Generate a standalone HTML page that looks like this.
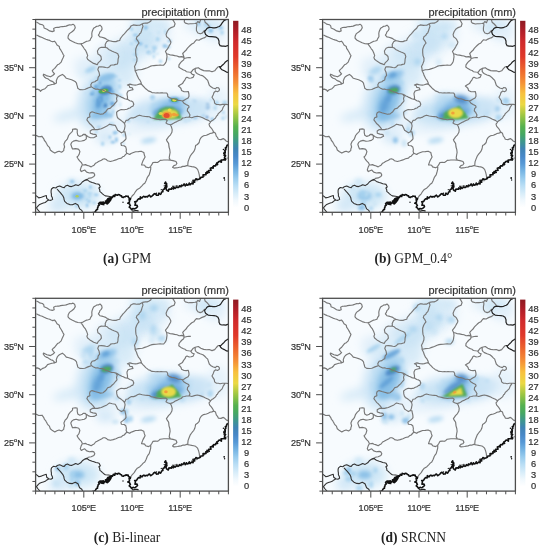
<!DOCTYPE html>
<html><head><meta charset="utf-8"><style>
html,body{margin:0;padding:0;background:#fff;}
svg{display:block;}
.tl{font-family:"Liberation Sans",Arial,sans-serif;font-size:9.1px;fill:#333;stroke:#333;stroke-width:0.22px;}
.cb{font-family:"Liberation Sans",Arial,sans-serif;font-size:9.3px;fill:#333;stroke:#333;stroke-width:0.22px;}
.deg{font-size:5.6px;}
.ti{font-family:"Liberation Sans",Arial,sans-serif;font-size:11px;fill:#333;stroke:#333;stroke-width:0.2px;}
.cap{font-family:"Liberation Serif","Times New Roman",serif;font-size:14.3px;fill:#222;}
</style></head><body>
<svg width="547" height="550" viewBox="0 0 547 550">
<defs>
<linearGradient id="cbg" x1="0" y1="0" x2="0" y2="1"><stop offset="0.0000" stop-color="#8e1a22"/><stop offset="0.0533" stop-color="#b01e28"/><stop offset="0.1124" stop-color="#d02a2c"/><stop offset="0.1913" stop-color="#e0392a"/><stop offset="0.2702" stop-color="#ee6a2e"/><stop offset="0.3294" stop-color="#f59036"/><stop offset="0.3886" stop-color="#f8c13e"/><stop offset="0.4477" stop-color="#ebd944"/><stop offset="0.5069" stop-color="#9cc643"/><stop offset="0.5661" stop-color="#55b14f"/><stop offset="0.6055" stop-color="#46a862"/><stop offset="0.6450" stop-color="#3e978c"/><stop offset="0.6844" stop-color="#3f84b4"/><stop offset="0.7239" stop-color="#4888c8"/><stop offset="0.7633" stop-color="#5799d6"/><stop offset="0.8028" stop-color="#76b4e3"/><stop offset="0.8422" stop-color="#99ccee"/><stop offset="0.8817" stop-color="#badef5"/><stop offset="0.9211" stop-color="#d6ecf9"/><stop offset="0.9606" stop-color="#f0f8fd"/><stop offset="1.0000" stop-color="#ffffff"/></linearGradient>
<clipPath id="clip"><rect x="0" y="0" width="192.80" height="192.80"/></clipPath>
<filter id="f0_5" x="-100%" y="-100%" width="300%" height="300%"><feGaussianBlur stdDeviation="0.5"/></filter><filter id="f0_6" x="-100%" y="-100%" width="300%" height="300%"><feGaussianBlur stdDeviation="0.6"/></filter><filter id="f0_7" x="-100%" y="-100%" width="300%" height="300%"><feGaussianBlur stdDeviation="0.7"/></filter><filter id="f0_8" x="-100%" y="-100%" width="300%" height="300%"><feGaussianBlur stdDeviation="0.8"/></filter><filter id="f0_9" x="-100%" y="-100%" width="300%" height="300%"><feGaussianBlur stdDeviation="0.9"/></filter><filter id="f1_0" x="-100%" y="-100%" width="300%" height="300%"><feGaussianBlur stdDeviation="1.0"/></filter><filter id="f1_2" x="-100%" y="-100%" width="300%" height="300%"><feGaussianBlur stdDeviation="1.2"/></filter><filter id="f1_3" x="-100%" y="-100%" width="300%" height="300%"><feGaussianBlur stdDeviation="1.3"/></filter><filter id="f1_5" x="-100%" y="-100%" width="300%" height="300%"><feGaussianBlur stdDeviation="1.5"/></filter><filter id="f1_6" x="-100%" y="-100%" width="300%" height="300%"><feGaussianBlur stdDeviation="1.6"/></filter><filter id="f1_8" x="-100%" y="-100%" width="300%" height="300%"><feGaussianBlur stdDeviation="1.8"/></filter><filter id="f2" x="-100%" y="-100%" width="300%" height="300%"><feGaussianBlur stdDeviation="2"/></filter><filter id="f2_2" x="-100%" y="-100%" width="300%" height="300%"><feGaussianBlur stdDeviation="2.2"/></filter><filter id="f2_5" x="-100%" y="-100%" width="300%" height="300%"><feGaussianBlur stdDeviation="2.5"/></filter><filter id="f3" x="-100%" y="-100%" width="300%" height="300%"><feGaussianBlur stdDeviation="3"/></filter><filter id="f3_5" x="-100%" y="-100%" width="300%" height="300%"><feGaussianBlur stdDeviation="3.5"/></filter><filter id="f4" x="-100%" y="-100%" width="300%" height="300%"><feGaussianBlur stdDeviation="4"/></filter><filter id="f5" x="-100%" y="-100%" width="300%" height="300%"><feGaussianBlur stdDeviation="5"/></filter><filter id="f6" x="-100%" y="-100%" width="300%" height="300%"><feGaussianBlur stdDeviation="6"/></filter>
<g id="borders"><path d="M0.8 2.6 2.5 3.4 4.0 4.6 6.8 5.2 8.1 6.4 8.5 8.5 11.4 9.8 14.0 11.4 16.7 12.1 18.6 11.4 18.0 8.9 20.0 8.0 21.6 7.9 23.2 7.9 25.0 7.3 26.8 7.1 28.7 6.9 30.6 6.6 32.3 5.9 34.1 5.3 35.7 5.5 37.4 4.8 39.0 5.9 39.7 8.3 38.3 10.7 36.1 12.5 33.8 14.1 32.6 16.4 32.4 18.6 34.1 20.5 36.9 22.0 39.6 23.3 42.4 24.2 45.3 24.4 47.1 26.8 48.3 28.8 M45.0 24.4 47.4 23.8 49.2 22.8 51.1 21.8 52.7 21.5 54.3 21.0 55.1 19.1 56.3 17.3 56.3 15.6 56.2 14.0 56.5 12.3 57.2 10.5 58.0 8.8 59.6 7.8 61.1 6.7 62.8 6.6 64.4 5.7 66.1 7.3 66.5 9.5 65.6 11.1 64.3 12.3 63.8 14.0 62.8 15.6 64.3 17.4 66.3 17.8 68.3 18.4 70.1 19.1 71.6 20.2 73.4 21.0 M73.4 21.1 75.0 21.5 76.7 21.9 78.5 22.1 80.4 22.1 82.1 21.4 84.1 21.0 84.7 19.1 86.3 17.0 87.4 15.6 88.7 14.3 90.0 12.9 91.2 11.3 92.6 10.0 94.1 8.7 95.3 6.6 97.7 5.4 99.3 5.6 100.9 5.9 102.5 5.7 104.2 5.8 106.8 4.3 M106.8 4.1 108.4 3.8 110.0 3.5 111.6 3.6 113.1 3.0 115.1 1.8 116.0 -0.5 M73.4 21.0 71.0 22.3 69.6 25.1 69.8 27.6 67.8 27.9 65.7 27.8 63.5 28.7 61.8 31.5 62.3 34.4 64.0 35.5 65.4 37.0 65.8 39.8 64.4 41.6 62.5 43.4 61.6 45.2 59.6 44.4 58.0 43.9 56.5 42.9 54.3 41.6 52.0 39.7 51.3 38.0 52.1 36.1 51.1 33.3 49.8 30.6 48.3 28.8 M69.8 27.9 71.6 28.5 73.0 29.9 74.7 30.7 76.6 31.7 78.4 32.5 80.3 33.2 82.2 34.2 83.2 37.0 82.5 39.7 82.3 42.6 81.8 44.5 80.1 44.9 78.5 45.4 76.7 45.5 75.0 45.8 74.0 47.2 72.1 48.2 70.2 48.0 68.4 47.6 65.8 47.3 63.2 47.4 62.4 49.5 62.2 50.1 63.5 53.0 64.0 55.8 62.6 57.6 62.1 60.5 60.5 61.3 59.3 62.3 56.5 63.0 55.2 65.3 55.6 67.2 M55.7 67.4 53.0 68.3 51.1 69.1 49.2 70.0 46.9 70.2 44.1 70.1 42.2 68.8 41.7 66.7 41.2 65.1 40.9 63.6 39.9 62.3 38.6 61.5 36.0 60.3 33.3 59.5 30.7 58.8 29.7 57.5 28.6 56.3 26.8 54.9 24.2 56.3 22.8 57.2 21.8 58.5 20.7 61.2 20.9 63.6 18.1 64.9 M0.8 15.4 3.0 16.6 4.8 17.4 6.6 18.0 8.5 18.9 10.3 19.8 12.2 20.4 14.1 20.9 15.6 21.7 17.2 22.3 18.8 21.7 20.2 23.2 21.4 25.5 23.7 26.9 24.0 28.9 25.3 30.7 26.8 33.3 27.5 34.8 28.4 36.0 27.5 38.3 26.5 40.2 25.6 42.6 23.7 44.4 21.9 45.3 20.5 47.1 19.1 48.9 17.8 49.9 16.6 51.3 17.7 53.0 19.0 54.3 17.1 56.0 14.9 57.3 13.1 56.8 11.4 56.4 9.8 55.6 8.0 54.7 7.6 55.7 9.1 57.8 10.5 58.8 12.2 59.3 13.7 60.4 15.3 61.4 17.2 62.1 18.7 63.5 18.1 64.7 16.3 65.0 14.6 65.5 11.9 66.3 11.0 67.7 9.4 69.2 6.6 70.3 4.8 71.8 4.1 70.6 1.7 69.6 -1.0 69.9 M106.7 4.3 107.4 6.8 106.4 9.6 105.9 11.5 105.2 13.3 103.9 14.5 103.2 15.9 101.3 17.3 100.7 19.3 102.3 21.4 103.4 23.6 102.2 25.0 101.1 26.9 100.1 29.7 100.1 31.5 100.1 33.3 100.4 36.1 101.4 38.8 101.3 41.5 100.2 44.4 98.9 47.0 99.4 49.1 99.5 51.2 100.9 53.9 101.4 55.8 102.3 57.6 103.0 59.1 104.1 60.3 105.5 63.0 105.9 64.9 M135.6 -1.0 136.9 -0.0 137.9 1.3 139.5 4.2 138.5 7.0 135.5 8.1 133.1 9.7 131.5 12.3 130.5 15.0 131.0 17.3 132.5 18.4 133.8 19.6 134.6 21.2 135.3 22.6 134.9 24.2 134.0 25.6 133.0 27.5 131.9 29.4 129.9 31.9 131.1 34.4 131.4 37.3 131.1 39.1 130.9 40.9 130.4 42.5 129.6 43.9 128.1 45.7 126.3 45.7 124.6 45.6 122.8 45.7 120.5 45.9 118.3 46.1 116.4 46.3 114.5 46.9 111.8 48.2 109.1 49.1 106.8 49.9 104.5 50.2 102.8 50.3 101.1 50.7 99.5 51.2 M131.2 34.2 133.0 34.7 134.7 35.5 136.9 35.6 139.1 36.1 141.4 36.5 143.5 37.4 146.3 37.1 148.6 38.1 M170.9 16.7 169.2 18.1 167.2 18.8 165.3 19.6 163.5 20.7 160.8 20.3 159.4 21.8 158.2 23.5 156.2 24.5 154.5 26.0 152.6 27.8 151.5 29.1 150.7 30.5 148.7 32.3 147.1 34.0 147.9 36.2 148.6 38.1 M148.6 39.0 151.5 38.2 153.3 38.1 155.2 38.1 M148.5 38.1 148.1 40.4 146.4 41.7 145.0 43.2 143.4 45.4 143.2 47.5 145.3 49.1 147.9 50.5 149.5 51.0 150.8 52.2 153.0 52.5 155.2 52.7 M155.4 52.9 157.3 50.3 159.6 48.9 162.7 48.2 165.2 49.9 168.1 51.1 170.8 51.4 173.6 51.2 176.4 52.3 179.1 51.3 180.8 49.2 182.5 47.3 184.0 47.2 M155.0 52.8 156.7 54.9 158.6 55.4 157.4 57.9 155.5 58.5 153.6 58.7 151.4 57.7 150.2 58.4 149.4 60.4 148.0 62.1 146.9 64.1 144.3 65.6 142.8 66.6 144.2 67.7 145.4 69.0 145.9 70.9 148.5 72.2 150.7 72.3 152.7 72.0 153.3 74.5 153.4 76.8 152.5 78.5 150.1 79.7 148.2 80.9 146.7 81.5 M106.0 64.8 107.5 66.5 108.8 67.9 110.1 69.3 111.5 70.3 112.7 71.4 114.7 72.1 116.4 73.1 118.3 73.2 120.1 73.5 121.9 73.3 123.7 73.5 125.5 73.2 127.4 73.4 129.2 73.5 131.1 73.5 132.0 74.9 132.2 77.0 133.9 78.3 136.1 79.1 138.3 79.3 140.4 80.0 142.6 80.9 144.8 81.0 146.7 81.5 M146.7 81.5 148.1 83.4 150.5 84.9 153.0 86.2 153.5 87.6 152.0 89.1 151.7 91.3 153.2 93.2 154.4 95.5 153.5 97.5 M159.6 48.9 159.6 50.5 159.6 51.9 160.5 53.3 161.8 54.3 164.5 55.5 167.3 56.4 168.9 57.7 170.7 59.5 172.1 60.8 172.8 63.0 173.7 65.7 175.0 67.1 177.2 68.5 179.8 69.3 180.9 68.1 182.8 68.2 183.9 69.8 183.5 71.2 181.8 72.2 180.1 71.5 178.4 73.0 177.8 74.9 176.4 77.7 177.4 79.3 178.7 81.3 179.0 83.6 180.9 85.0 182.7 85.0 184.5 85.4 186.8 84.9 189.1 84.9 190.8 84.9 192.4 85.2 194.0 85.4 M189.3 85.3 187.6 87.8 186.5 90.6 184.6 92.4 182.7 94.1 181.8 95.9 181.0 96.5 179.9 98.6 177.6 100.4 176.2 101.3 174.9 102.4 M55.6 67.1 57.5 68.4 60.2 69.7 61.8 69.5 63.4 70.0 65.0 70.2 66.7 70.2 69.2 71.5 70.8 72.2 72.4 72.7 74.2 73.4 76.1 74.2 78.3 74.2 80.4 74.8 81.9 75.5 83.3 76.4 84.8 77.1 86.2 77.9 87.7 78.4 89.1 79.3 91.8 79.9 M80.3 74.9 81.6 76.8 80.9 79.0 81.4 81.5 80.3 82.8 79.1 84.2 78.0 85.6 76.6 86.7 74.8 88.6 72.0 89.5 71.1 90.9 70.2 92.2 68.9 93.2 67.6 94.4 64.9 94.8 62.0 94.0 59.3 93.2 56.5 92.3 54.6 93.2 54.0 95.0 54.3 97.4 52.1 98.3 51.3 100.4 53.0 102.7 54.2 104.3 55.7 105.5 57.8 107.9 59.3 110.0 62.0 110.1 63.8 109.6 65.7 109.2 68.4 107.9 71.3 106.6 72.6 105.6 73.9 104.7 76.7 105.4 79.6 105.9 80.9 108.2 82.0 110.7 83.6 111.8 85.8 113.3 87.8 112.3 88.8 110.1 89.1 108.3 89.5 106.5 89.0 104.2 M91.9 79.9 91.9 77.3 91.5 75.5 91.4 73.7 92.5 71.5 95.1 70.7 97.4 70.1 96.6 68.3 94.1 67.9 93.7 66.2 91.8 65.5 94.3 64.6 96.2 65.1 98.0 65.5 99.8 65.6 101.7 65.3 104.6 64.4 105.9 64.9 M91.9 79.8 94.2 81.2 95.9 81.6 97.3 82.4 98.2 84.7 97.3 86.8 95.7 87.3 94.4 88.5 92.8 88.9 91.4 89.8 88.5 90.3 85.6 90.0 82.7 91.3 81.0 92.7 81.2 95.6 81.7 97.6 82.7 99.1 84.9 100.5 86.3 101.6 87.7 102.7 89.0 104.2 M88.8 104.1 89.6 102.6 90.4 100.9 92.2 100.7 94.1 99.1 95.8 98.3 98.1 98.3 100.0 97.6 101.8 96.5 103.8 95.7 106.7 96.5 109.7 97.0 111.7 97.1 113.7 97.2 115.4 98.3 117.3 98.7 119.2 99.1 121.0 99.6 122.9 99.9 124.7 100.2 127.4 99.9 130.0 99.7 131.6 101.0 130.4 103.5 132.0 104.5 134.6 105.3 136.6 104.6 138.3 103.6 139.7 102.7 141.2 102.1 143.9 100.7 145.5 100.2 147.1 98.5 149.0 98.2 150.7 97.7 153.5 97.5 M153.5 97.5 156.2 98.2 158.8 97.3 161.7 96.7 164.4 97.3 167.1 98.3 169.9 99.7 172.8 100.9 174.9 102.4 M175.1 102.5 173.4 104.6 174.1 106.8 175.9 108.8 177.3 111.0 178.0 112.7 M178.1 112.6 179.9 113.8 180.7 116.6 181.9 118.0 182.7 119.8 185.4 120.1 187.7 119.1 189.1 120.0 190.9 121.8 194.0 122.5 M178.1 112.9 176.3 113.6 174.4 114.0 172.7 114.9 170.8 115.7 168.0 116.3 166.5 117.2 165.3 118.4 164.2 120.2 163.6 123.0 161.8 125.0 160.0 126.1 159.6 128.4 159.1 130.3 158.1 132.2 157.1 133.4 156.0 134.7 154.7 136.5 153.5 139.4 152.5 142.1 152.3 143.8 152.2 145.5 152.1 146.1 M134.8 105.4 135.8 107.3 136.6 110.1 136.3 112.7 134.9 115.3 132.9 117.4 131.9 118.8 130.8 120.3 131.6 121.9 133.0 123.8 133.2 125.6 133.4 127.5 134.2 130.2 134.5 133.0 134.0 135.7 133.6 138.6 134.7 140.3 M114.9 147.0 116.2 145.2 117.3 143.1 119.6 142.8 121.9 143.0 123.3 142.1 124.6 140.9 126.5 140.7 128.3 140.5 130.2 140.5 132.0 140.5 134.6 140.6 137.4 141.1 140.4 142.0 141.3 144.0 140.2 145.5 138.3 146.1 136.9 147.8 138.4 148.6 140.2 148.4 142.0 148.2 143.7 147.8 145.4 147.6 147.1 146.9 148.9 146.9 151.2 146.1 152.1 146.1 M152.0 146.3 154.1 146.7 156.2 147.1 158.1 147.4 160.0 148.0 162.0 149.9 163.0 152.6 163.7 155.4 164.0 158.1 M88.1 112.2 89.4 112.4 89.6 114.0 90.0 115.6 90.3 117.4 90.4 119.3 89.2 120.8 87.7 122.1 85.3 123.8 85.8 126.0 88.5 126.2 90.2 127.5 90.8 130.2 90.5 132.0 91.3 133.9 M91.3 133.8 94.1 135.0 95.4 134.0 97.2 133.3 100.0 132.2 102.7 132.1 105.5 131.7 108.2 133.0 108.8 135.6 109.5 137.5 108.5 139.3 107.4 141.3 106.7 143.1 105.9 145.4 106.4 145.3 109.0 145.8 110.0 147.4 112.9 148.3 115.1 147.2 M91.2 133.8 89.9 135.2 88.6 136.7 87.0 137.3 85.8 138.6 82.9 139.2 80.3 140.4 77.6 141.3 74.8 142.0 72.0 141.3 70.8 140.1 69.3 139.4 67.6 139.5 65.8 140.8 62.9 142.1 61.5 142.9 60.0 143.7 58.5 145.7 57.0 146.4 55.6 147.4 53.0 146.3 51.4 145.9 50.1 145.1 47.5 145.5 46.9 145.5 M115.2 147.2 115.1 149.8 114.4 152.5 113.6 155.3 112.6 156.6 111.7 158.0 110.6 160.9 109.2 163.7 107.6 164.8 106.3 166.3 104.3 168.4 101.7 169.9 100.1 171.8 98.6 174.3 96.5 176.5 95.0 179.0 M59.3 109.9 56.7 110.1 54.6 111.5 54.7 113.7 57.4 114.6 60.4 115.1 61.0 116.8 58.4 118.1 56.6 118.2 54.8 118.2 52.5 117.3 51.1 116.1 49.2 115.2 47.4 114.9 M-1.0 116.1 0.8 116.0 3.1 117.2 6.4 116.9 8.2 119.3 8.8 121.0 10.1 122.4 10.8 123.8 11.6 125.3 12.5 126.6 13.8 127.8 14.7 130.5 16.9 132.3 19.2 133.6 21.3 132.4 23.5 131.7 26.0 132.7 28.1 131.1 28.3 129.3 29.0 127.5 28.3 124.7 29.5 121.9 30.8 120.7 31.8 119.3 32.4 117.7 33.0 116.0 34.7 113.9 35.9 112.8 37.0 111.5 36.9 109.9 39.6 109.4 41.5 109.7 41.7 111.3 41.6 112.9 42.2 115.8 44.2 116.9 46.8 116.0 47.4 114.9 M47.4 114.9 49.7 114.9 50.7 116.5 50.7 119.4 48.8 120.9 46.0 121.5 43.4 121.8 40.5 120.9 37.8 121.6 36.1 122.9 35.2 124.8 36.1 127.5 36.9 129.5 39.6 129.1 41.5 129.4 43.2 129.9 44.3 132.1 43.5 134.9 42.6 136.3 41.4 137.5 42.5 139.3 44.0 141.4 45.8 143.1 46.9 145.5 M46.7 145.4 45.5 147.8 44.7 150.4 45.7 152.1 47.4 151.2 49.1 150.5 51.1 152.6 53.8 153.5 56.5 153.1 58.3 153.6 59.2 155.4 58.3 157.1 55.6 158.4 52.8 158.9 51.2 160.6 49.4 160.9 M148.5 -1.0 148.8 0.6 148.7 2.3 149.8 3.6 152.8 4.5 154.6 4.2 156.4 4.3 159.3 4.0 161.0 3.6 161.3 5.5 160.8 8.5 160.9 11.3 162.3 13.5 164.6 14.3 166.6 13.6 168.0 12.0 169.2 10.7 M160.9 3.8 162.2 2.0 163.9 3.2 164.6 1.4 165.6 -1.0 M168.8 -1.0 169.0 0.8 169.5 2.7 171.6 4.5 173.4 6.5 173.6 7.7" fill="none" stroke="#777" stroke-width="1.15" stroke-linejoin="round"/><path d="M-1.0 175.8 0.4 176.2 1.8 177.1 3.1 178.4 5.8 177.8 8.5 176.7 10.7 176.0 11.1 178.9 13.1 180.5 15.3 180.9 17.0 179.9 16.7 178.1 15.8 176.4 15.8 174.6 15.5 172.8 15.5 171.2 15.9 169.5 17.7 168.0 20.3 168.5 21.7 167.2 24.1 166.5 26.8 167.8 28.6 168.1 29.9 166.5 31.9 165.8 34.1 166.9 35.9 167.1 38.1 166.3 40.1 165.2 42.5 166.1 45.1 164.5 46.7 162.5 49.3 160.7 51.1 159.9 52.4 160.9 53.8 161.9 56.6 163.0 58.4 163.5 60.2 164.2 61.8 164.5 63.5 164.9 64.7 167.4 63.3 168.5 64.1 170.2 64.3 172.1 65.7 173.1 66.9 174.3 68.2 175.4 69.7 176.4 72.8 176.7 75.3 177.2 M21.4 169.5 23.5 171.9 24.9 173.3 26.1 174.8 27.1 176.0 28.2 178.2 28.5 180.1 29.1 181.9 31.3 183.9 34.1 185.1 36.8 185.3 39.7 183.9 42.4 185.5 43.2 187.4 44.0 189.4 46.2 190.9 46.9 192.5 47.9 194.0 M13.1 180.6 11.3 181.6 9.6 183.0 7.7 183.6 5.8 184.2 4.1 184.9 2.8 186.1 0.8 188.3 2.5 190.7 4.1 192.5 4.9 194.0" fill="none" stroke="#333" stroke-width="1.1" stroke-linejoin="round"/><path d="M191.6 -0.9 190.2 0.3 188.4 1.1 186.6 3.4 185.0 5.9 183.7 7.0 182.1 7.5 180.6 8.2 179.0 8.4 177.5 8.3 175.9 8.0 174.1 7.9 172.4 8.3 171.1 9.3 170.1 10.7 169.0 12.1 169.4 13.6 170.0 14.9 171.3 15.9 172.5 16.8 175.4 17.2 176.3 17.2 178.4 17.3 180.5 17.7 182.4 19.0 183.4 21.4 183.4 24.0 184.5 26.2 186.3 26.7 188.2 26.6 190.2 26.8 192.0 26.1 194.0 26.0 M194.0 40.4 191.8 41.1 189.5 42.8 188.5 44.1 187.3 45.2 186.1 46.3 185.0 47.5 183.9 47.2 185.0 48.9 186.4 50.2 188.7 51.3 190.9 52.6 192.5 52.8 194.0 53.2 M96.4 191.3 98.1 191.6 99.7 191.0 101.4 191.1 103.0 191.6" fill="none" stroke="#222" stroke-width="1.2" stroke-linejoin="round"/><path d="M194.2 126.0 192.8 125.3 191.7 125.7 191.0 126.7 190.8 127.9 189.7 128.4 190.3 129.5 190.1 130.3 189.2 131.1 189.7 132.3 188.6 133.0 188.2 133.9 189.5 134.5 188.5 135.8 190.0 136.3 188.9 137.7 189.1 138.7 190.0 139.4 189.4 140.6 188.2 140.0 187.5 140.5 185.7 140.5 185.8 142.8 184.1 141.8 183.1 142.0 182.5 143.0 181.2 143.6 182.0 145.1 180.3 144.9 180.0 146.4 178.5 146.2 177.6 146.8 177.6 148.8 175.9 148.3 174.7 148.7 175.4 150.8 174.3 151.0 173.0 151.1 173.2 152.8 171.4 152.1 171.6 153.7 170.2 153.4 170.4 155.1 169.0 155.3 167.5 155.3 167.5 157.4 166.5 157.7 165.3 157.7 164.6 158.5 164.0 159.5 162.9 159.7 162.2 160.1 160.3 159.3 159.9 160.4 158.8 160.7 159.1 162.6 157.4 162.4 157.5 164.4 156.2 164.0 155.2 164.3 154.5 165.3 153.2 164.5 152.5 165.5 151.6 165.7 150.9 164.9 149.6 166.4 148.5 164.4 147.9 165.5 147.1 166.3 145.8 165.8 145.4 167.3 143.8 166.3 143.4 167.5 142.4 168.1 141.3 167.3 140.4 168.1 139.5 168.8 138.2 167.7 137.8 169.5 136.3 168.3 135.9 169.8 134.5 169.6 133.1 169.7 133.0 171.0 132.7 171.7 131.7 171.0 130.8 170.3 130.5 169.3 130.5 168.4 131.3 167.2 130.7 166.4 130.6 165.4 131.0 164.1 129.1 163.9 130.0 162.6 129.2 163.7 130.7 164.7 130.5 165.7 129.6 166.4 129.9 167.5 129.1 168.3 128.9 169.4 127.7 169.9 127.2 170.8 127.3 172.2 126.0 172.6 125.6 173.8 125.0 174.9 123.3 173.7 122.8 175.6 121.8 175.7 120.9 175.8 120.0 174.5 119.0 174.2 118.1 174.7 117.4 175.7 116.6 176.4 115.2 177.4 113.8 175.7 112.7 176.4 111.8 177.4 110.5 177.0 109.5 177.7 108.3 176.8 107.2 177.4 106.3 178.6 104.7 177.4 104.5 179.6 103.0 179.2 102.3 180.0 101.7 180.8 101.1 181.9 99.1 182.3 100.0 183.1 99.6 184.6 99.4 185.8 101.4 185.7 101.9 187.2 100.7 188.4 99.7 189.1 98.6 189.4 97.5 189.0 95.9 190.2 95.4 189.2 94.6 188.3 93.6 187.6 94.8 185.9 94.2 185.2 93.9 184.3 92.2 183.7 93.8 182.8 93.9 181.6 93.5 180.3 94.7 180.1 94.9 179.1 93.9 178.7 93.0 178.2 92.4 177.2 92.6 176.8 91.5 176.8 90.2 176.6 89.7 177.2 88.5 177.2 87.9 177.9 86.4 177.7 85.9 176.4 84.8 176.2 84.0 175.2 82.6 175.0 81.9 175.8 80.7 175.4 79.5 175.1 79.1 177.0 77.8 176.0 76.8 178.1 75.7 177.5 75.2 178.4 73.9 178.6 72.2 179.3 71.7 180.2 71.6 181.4 69.9 181.6 69.9 183.4 68.8 183.8 67.7 182.5 66.7 183.0 65.7 182.7 64.4 182.8 63.0 184.1 63.7 185.6 62.5 186.5 62.4 187.7 61.9 188.4 61.9 189.9 60.8 190.3 60.3 191.1 59.8 192.2 58.5 193.2 57.1 193.1 56.5 194.0" fill="none" stroke="#111" stroke-width="1.6" stroke-linejoin="round"/><path d="M70.9 180.1 74.2 178.3 76.6 177.9 76.0 180.5 74.2 183.1 72.0 185.2 70.4 184.7 70.2 182.3Z M63.6 183.0 66.9 182.7 69.1 183.8 68.7 186.0 66.2 185.6 64.0 184.9Z" fill="#111"/><g fill="#111"><circle cx="190.8" cy="125.6" r="0.46"/><circle cx="187.9" cy="130.0" r="0.82"/><circle cx="189.6" cy="133.1" r="0.86"/><circle cx="191.5" cy="138.5" r="0.50"/><circle cx="189.9" cy="140.1" r="0.86"/><circle cx="184.8" cy="140.8" r="0.50"/><circle cx="178.3" cy="146.5" r="0.66"/><circle cx="176.9" cy="147.3" r="0.63"/><circle cx="173.7" cy="152.9" r="0.76"/><circle cx="172.3" cy="154.0" r="0.62"/><circle cx="169.0" cy="156.4" r="0.50"/><circle cx="164.8" cy="158.8" r="0.94"/><circle cx="161.3" cy="161.3" r="0.54"/><circle cx="157.5" cy="161.0" r="0.92"/><circle cx="155.9" cy="162.6" r="0.50"/><circle cx="153.7" cy="163.6" r="0.84"/><circle cx="150.8" cy="164.7" r="0.90"/><circle cx="146.2" cy="165.7" r="0.58"/><circle cx="141.3" cy="166.2" r="0.68"/><circle cx="139.5" cy="166.6" r="0.62"/><circle cx="137.4" cy="166.9" r="0.82"/><circle cx="133.5" cy="170.1" r="0.51"/><circle cx="131.6" cy="165.6" r="0.60"/><circle cx="130.3" cy="162.8" r="0.57"/><circle cx="128.5" cy="166.2" r="0.54"/><circle cx="125.7" cy="170.2" r="0.64"/><circle cx="120.9" cy="173.7" r="0.77"/><circle cx="119.3" cy="173.9" r="0.65"/></g><circle cx="87.4" cy="182.7" r="0.7" fill="#111"/><circle cx="188.6" cy="158.5" r="0.9" fill="#111"/><circle cx="189.0" cy="160.5" r="0.7" fill="#111"/></g>
<g id="blobs_a"><ellipse cx="95" cy="30" rx="42" ry="13" transform="rotate(-25 95 30)" fill="#cae4f5" fill-opacity="0.8" filter="url(#f6)"/><ellipse cx="88" cy="40" rx="16" ry="6" transform="rotate(-30 88 40)" fill="#cae4f5" fill-opacity="0.8" filter="url(#f4)"/><ellipse cx="106" cy="20" rx="10" ry="12" fill="#cae4f5" fill-opacity="0.75" filter="url(#f5)"/><ellipse cx="88" cy="48" rx="12" ry="20" transform="rotate(-10 88 48)" fill="#cae4f5" fill-opacity="0.7" filter="url(#f5)"/><ellipse cx="108" cy="22" rx="7" ry="9" fill="#cae4f5" fill-opacity="0.8" filter="url(#f3)"/><ellipse cx="158" cy="6" rx="10" ry="6" fill="#e2f0fa" fill-opacity="0.9" filter="url(#f4)"/><ellipse cx="126" cy="6" rx="9" ry="6" fill="#cae4f5" fill-opacity="0.7" filter="url(#f3)"/><ellipse cx="106" cy="14" rx="10" ry="8" fill="#cae4f5" fill-opacity="0.7" filter="url(#f4)"/><ellipse cx="52" cy="50" rx="11" ry="6" transform="rotate(-30 52 50)" fill="#cae4f5" fill-opacity="0.9" filter="url(#f4)"/><ellipse cx="48" cy="45" rx="10" ry="8" fill="#e2f0fa" fill-opacity="0.9" filter="url(#f5)"/><ellipse cx="72" cy="35" rx="10" ry="10" fill="#e2f0fa" fill-opacity="0.9" filter="url(#f4)"/><ellipse cx="76" cy="36" rx="6" ry="6" fill="#cae4f5" fill-opacity="0.7" filter="url(#f3)"/><ellipse cx="108" cy="4" rx="14" ry="6" fill="#cae4f5" fill-opacity="0.9" filter="url(#f4)"/><ellipse cx="174" cy="8" rx="14" ry="8" fill="#cae4f5" fill-opacity="0.9" filter="url(#f4)"/><ellipse cx="180" cy="15" rx="10" ry="8" fill="#e2f0fa" fill-opacity="0.9" filter="url(#f4)"/><ellipse cx="160" cy="92" rx="22" ry="9" transform="rotate(-10 160 92)" fill="#e2f0fa" fill-opacity="0.9" filter="url(#f5)"/><ellipse cx="182" cy="84" rx="12" ry="16" fill="#e2f0fa" fill-opacity="0.8" filter="url(#f5)"/><ellipse cx="112" cy="106" rx="26" ry="7" transform="rotate(-8 112 106)" fill="#e2f0fa" fill-opacity="0.9" filter="url(#f5)"/><ellipse cx="74" cy="105" rx="20" ry="7" transform="rotate(-5 74 105)" fill="#e2f0fa" fill-opacity="0.9" filter="url(#f5)"/><ellipse cx="33" cy="96" rx="16" ry="5" transform="rotate(-15 33 96)" fill="#cae4f5" fill-opacity="0.7" filter="url(#f4)"/><ellipse cx="70" cy="118" rx="10" ry="6" fill="#cae4f5" fill-opacity="0.8" filter="url(#f4)"/><ellipse cx="113" cy="121" rx="8" ry="2.6" transform="rotate(-10 113 121)" fill="#a6d1ee" fill-opacity="0.85" filter="url(#f2_2)"/><ellipse cx="42" cy="176" rx="22" ry="13" fill="#cae4f5" fill-opacity="0.9" filter="url(#f5)"/><ellipse cx="22" cy="186" rx="9" ry="7" fill="#cae4f5" fill-opacity="0.8" filter="url(#f4)"/><ellipse cx="36" cy="162" rx="4" ry="3" fill="#cae4f5" fill-opacity="0.9" filter="url(#f2)"/><ellipse cx="42" cy="176.5" rx="7" ry="4" fill="#84bce6" fill-opacity="0.9" filter="url(#f2)"/><ellipse cx="58.3" cy="79.5" rx="1.6" ry="2.0" fill="#cae4f5" fill-opacity="0.85" filter="url(#f1_0)"/><ellipse cx="71.2" cy="95.9" rx="1.8" ry="1.9" fill="#a6d1ee" fill-opacity="0.85" filter="url(#f1_0)"/><ellipse cx="84.8" cy="76.2" rx="2.3" ry="1.8" fill="#a6d1ee" fill-opacity="0.85" filter="url(#f1_0)"/><ellipse cx="58.1" cy="61.8" rx="2.5" ry="1.6" fill="#cae4f5" fill-opacity="0.85" filter="url(#f1_0)"/><ellipse cx="73.5" cy="57.9" rx="2.2" ry="1.9" fill="#a6d1ee" fill-opacity="0.85" filter="url(#f1_0)"/><ellipse cx="77.3" cy="92.1" rx="1.4" ry="2.0" fill="#84bce6" fill-opacity="0.85" filter="url(#f1_0)"/><ellipse cx="75.0" cy="96.4" rx="1.6" ry="2.3" fill="#84bce6" fill-opacity="0.85" filter="url(#f1_0)"/><ellipse cx="83.7" cy="61.0" rx="1.6" ry="1.1" fill="#84bce6" fill-opacity="0.85" filter="url(#f1_0)"/><ellipse cx="57.6" cy="98.4" rx="1.7" ry="2.0" fill="#a6d1ee" fill-opacity="0.85" filter="url(#f1_0)"/><ellipse cx="64.7" cy="92.5" rx="1.9" ry="1.9" fill="#84bce6" fill-opacity="0.85" filter="url(#f1_0)"/><ellipse cx="70.4" cy="95.7" rx="2.1" ry="2.5" fill="#a6d1ee" fill-opacity="0.85" filter="url(#f1_0)"/><ellipse cx="84.7" cy="85.2" rx="1.3" ry="2.4" fill="#cae4f5" fill-opacity="0.85" filter="url(#f1_0)"/><ellipse cx="75.0" cy="64.5" rx="2.3" ry="1.9" fill="#a6d1ee" fill-opacity="0.85" filter="url(#f1_0)"/><ellipse cx="54.4" cy="76.7" rx="2.0" ry="1.8" fill="#a6d1ee" fill-opacity="0.85" filter="url(#f1_0)"/><ellipse cx="78.0" cy="73.5" rx="1.2" ry="1.5" fill="#84bce6" fill-opacity="0.85" filter="url(#f1_0)"/><ellipse cx="80.5" cy="57.0" rx="2.0" ry="1.1" fill="#a6d1ee" fill-opacity="0.85" filter="url(#f1_0)"/><ellipse cx="69.3" cy="96.5" rx="1.4" ry="1.4" fill="#cae4f5" fill-opacity="0.85" filter="url(#f1_0)"/><ellipse cx="60.8" cy="58.5" rx="2.0" ry="1.1" fill="#a6d1ee" fill-opacity="0.85" filter="url(#f1_0)"/><ellipse cx="84.0" cy="68.1" rx="1.4" ry="2.1" fill="#a6d1ee" fill-opacity="0.85" filter="url(#f1_0)"/><ellipse cx="61.0" cy="98.1" rx="2.4" ry="1.6" fill="#84bce6" fill-opacity="0.85" filter="url(#f1_0)"/><ellipse cx="80.4" cy="72.4" rx="2.4" ry="2.1" fill="#cae4f5" fill-opacity="0.85" filter="url(#f1_0)"/><ellipse cx="71.7" cy="97.3" rx="1.8" ry="1.7" fill="#a6d1ee" fill-opacity="0.85" filter="url(#f1_0)"/><ellipse cx="82.8" cy="74.7" rx="1.4" ry="1.5" fill="#a6d1ee" fill-opacity="0.85" filter="url(#f1_0)"/><ellipse cx="50.4" cy="73.7" rx="1.9" ry="1.0" fill="#a6d1ee" fill-opacity="0.85" filter="url(#f1_0)"/><ellipse cx="52.1" cy="83.2" rx="1.7" ry="2.1" fill="#a6d1ee" fill-opacity="0.85" filter="url(#f1_0)"/><ellipse cx="71.3" cy="67.6" rx="1.8" ry="1.9" fill="#cae4f5" fill-opacity="0.85" filter="url(#f1_0)"/><ellipse cx="83.7" cy="66.3" rx="1.7" ry="1.9" fill="#a6d1ee" fill-opacity="0.85" filter="url(#f1_0)"/><ellipse cx="56.2" cy="63.3" rx="2.2" ry="2.4" fill="#a6d1ee" fill-opacity="0.85" filter="url(#f1_0)"/><ellipse cx="60.5" cy="72.0" rx="2.2" ry="1.0" fill="#a6d1ee" fill-opacity="0.85" filter="url(#f1_0)"/><ellipse cx="60.9" cy="65.0" rx="2.3" ry="1.4" fill="#a6d1ee" fill-opacity="0.85" filter="url(#f1_0)"/><ellipse cx="73.7" cy="84.2" rx="1.2" ry="2.0" fill="#a6d1ee" fill-opacity="0.85" filter="url(#f1_0)"/><ellipse cx="73.6" cy="65.1" rx="2.3" ry="2.5" fill="#cae4f5" fill-opacity="0.85" filter="url(#f1_0)"/><ellipse cx="61.8" cy="84.3" rx="2.4" ry="1.7" fill="#a6d1ee" fill-opacity="0.85" filter="url(#f1_0)"/><ellipse cx="77.5" cy="56.5" rx="2.5" ry="1.5" fill="#a6d1ee" fill-opacity="0.85" filter="url(#f1_0)"/><ellipse cx="80.2" cy="70.3" rx="2.3" ry="1.1" fill="#a6d1ee" fill-opacity="0.85" filter="url(#f1_0)"/><ellipse cx="136.5" cy="89.0" rx="1.8" ry="2.4" fill="#84bce6" fill-opacity="0.85" filter="url(#f1_0)"/><ellipse cx="125.6" cy="88.8" rx="1.7" ry="1.7" fill="#84bce6" fill-opacity="0.85" filter="url(#f1_0)"/><ellipse cx="117.0" cy="78.1" rx="2.5" ry="2.4" fill="#84bce6" fill-opacity="0.85" filter="url(#f1_0)"/><ellipse cx="135.1" cy="103.6" rx="2.1" ry="1.1" fill="#84bce6" fill-opacity="0.85" filter="url(#f1_0)"/><ellipse cx="147.7" cy="95.2" rx="1.8" ry="1.5" fill="#a6d1ee" fill-opacity="0.85" filter="url(#f1_0)"/><ellipse cx="150.0" cy="100.4" rx="2.4" ry="2.6" fill="#cae4f5" fill-opacity="0.85" filter="url(#f1_0)"/><ellipse cx="146.5" cy="79.2" rx="2.4" ry="2.1" fill="#a6d1ee" fill-opacity="0.85" filter="url(#f1_0)"/><ellipse cx="150.3" cy="101.4" rx="1.9" ry="1.0" fill="#cae4f5" fill-opacity="0.85" filter="url(#f1_0)"/><ellipse cx="117.7" cy="85.8" rx="2.1" ry="1.8" fill="#84bce6" fill-opacity="0.85" filter="url(#f1_0)"/><ellipse cx="112.4" cy="101.7" rx="1.2" ry="1.2" fill="#84bce6" fill-opacity="0.85" filter="url(#f1_0)"/><ellipse cx="146.5" cy="79.6" rx="1.4" ry="1.2" fill="#cae4f5" fill-opacity="0.85" filter="url(#f1_0)"/><ellipse cx="117.7" cy="98.6" rx="2.5" ry="2.3" fill="#cae4f5" fill-opacity="0.85" filter="url(#f1_0)"/><ellipse cx="131.9" cy="92.8" rx="1.6" ry="2.2" fill="#a6d1ee" fill-opacity="0.85" filter="url(#f1_0)"/><ellipse cx="122.1" cy="91.7" rx="1.7" ry="1.8" fill="#cae4f5" fill-opacity="0.85" filter="url(#f1_0)"/><ellipse cx="148.6" cy="98.2" rx="1.1" ry="1.1" fill="#84bce6" fill-opacity="0.85" filter="url(#f1_0)"/><ellipse cx="153.9" cy="100.2" rx="1.1" ry="1.8" fill="#a6d1ee" fill-opacity="0.85" filter="url(#f1_0)"/><ellipse cx="117.1" cy="79.9" rx="1.6" ry="1.6" fill="#a6d1ee" fill-opacity="0.85" filter="url(#f1_0)"/><ellipse cx="126.2" cy="83.0" rx="1.5" ry="1.2" fill="#cae4f5" fill-opacity="0.85" filter="url(#f1_0)"/><ellipse cx="142.2" cy="87.9" rx="1.1" ry="1.3" fill="#a6d1ee" fill-opacity="0.85" filter="url(#f1_0)"/><ellipse cx="130.7" cy="94.9" rx="1.9" ry="2.0" fill="#cae4f5" fill-opacity="0.85" filter="url(#f1_0)"/><ellipse cx="138.0" cy="89.2" rx="1.6" ry="1.8" fill="#a6d1ee" fill-opacity="0.85" filter="url(#f1_0)"/><ellipse cx="128.9" cy="96.0" rx="1.7" ry="1.4" fill="#a6d1ee" fill-opacity="0.85" filter="url(#f1_0)"/><ellipse cx="141.3" cy="79.9" rx="1.7" ry="1.7" fill="#cae4f5" fill-opacity="0.85" filter="url(#f1_0)"/><ellipse cx="152.1" cy="87.7" rx="2.4" ry="2.3" fill="#a6d1ee" fill-opacity="0.85" filter="url(#f1_0)"/><ellipse cx="115.5" cy="96.0" rx="2.5" ry="2.2" fill="#84bce6" fill-opacity="0.85" filter="url(#f1_0)"/><ellipse cx="121.7" cy="34.3" rx="1.9" ry="1.2" fill="#cae4f5" fill-opacity="0.85" filter="url(#f1_0)"/><ellipse cx="113.9" cy="14.4" rx="1.6" ry="1.8" fill="#cae4f5" fill-opacity="0.85" filter="url(#f1_0)"/><ellipse cx="121.4" cy="20.0" rx="2.3" ry="1.5" fill="#cae4f5" fill-opacity="0.85" filter="url(#f1_0)"/><ellipse cx="96.0" cy="9.6" rx="1.8" ry="2.1" fill="#a6d1ee" fill-opacity="0.85" filter="url(#f1_0)"/><ellipse cx="118.2" cy="36.9" rx="1.1" ry="2.2" fill="#a6d1ee" fill-opacity="0.85" filter="url(#f1_0)"/><ellipse cx="99.3" cy="35.0" rx="2.5" ry="1.1" fill="#a6d1ee" fill-opacity="0.85" filter="url(#f1_0)"/><ellipse cx="129.8" cy="12.2" rx="1.1" ry="2.6" fill="#a6d1ee" fill-opacity="0.85" filter="url(#f1_0)"/><ellipse cx="113.2" cy="33.0" rx="2.5" ry="1.4" fill="#84bce6" fill-opacity="0.85" filter="url(#f1_0)"/><ellipse cx="132.6" cy="27.3" rx="2.5" ry="1.6" fill="#a6d1ee" fill-opacity="0.85" filter="url(#f1_0)"/><ellipse cx="133.9" cy="21.5" rx="2.2" ry="1.3" fill="#84bce6" fill-opacity="0.85" filter="url(#f1_0)"/><ellipse cx="101.2" cy="21.0" rx="2.4" ry="1.3" fill="#84bce6" fill-opacity="0.85" filter="url(#f1_0)"/><ellipse cx="124.9" cy="41.7" rx="1.8" ry="1.7" fill="#a6d1ee" fill-opacity="0.85" filter="url(#f1_0)"/><ellipse cx="100.5" cy="35.1" rx="1.2" ry="1.8" fill="#a6d1ee" fill-opacity="0.85" filter="url(#f1_0)"/><ellipse cx="129.1" cy="26.5" rx="2.2" ry="2.1" fill="#84bce6" fill-opacity="0.85" filter="url(#f1_0)"/><ellipse cx="118.8" cy="28.4" rx="2.6" ry="2.4" fill="#a6d1ee" fill-opacity="0.85" filter="url(#f1_0)"/><ellipse cx="95.9" cy="24.2" rx="1.6" ry="1.3" fill="#a6d1ee" fill-opacity="0.85" filter="url(#f1_0)"/><ellipse cx="104.6" cy="24.3" rx="2.4" ry="1.7" fill="#84bce6" fill-opacity="0.85" filter="url(#f1_0)"/><ellipse cx="123.1" cy="13.2" rx="1.9" ry="2.4" fill="#cae4f5" fill-opacity="0.85" filter="url(#f1_0)"/><ellipse cx="114.3" cy="33.8" rx="2.4" ry="1.6" fill="#cae4f5" fill-opacity="0.85" filter="url(#f1_0)"/><ellipse cx="113.7" cy="14.2" rx="1.4" ry="2.1" fill="#cae4f5" fill-opacity="0.85" filter="url(#f1_0)"/><ellipse cx="133.3" cy="39.2" rx="1.4" ry="1.3" fill="#a6d1ee" fill-opacity="0.85" filter="url(#f1_0)"/><ellipse cx="100.5" cy="29.9" rx="2.1" ry="1.1" fill="#a6d1ee" fill-opacity="0.85" filter="url(#f1_0)"/><ellipse cx="101.8" cy="6.8" rx="1.3" ry="1.1" fill="#cae4f5" fill-opacity="0.85" filter="url(#f1_0)"/><ellipse cx="99.7" cy="15.6" rx="2.5" ry="1.1" fill="#84bce6" fill-opacity="0.85" filter="url(#f1_0)"/><ellipse cx="118.2" cy="32.0" rx="1.0" ry="1.5" fill="#84bce6" fill-opacity="0.85" filter="url(#f1_0)"/><ellipse cx="110.2" cy="8.1" rx="2.0" ry="2.2" fill="#84bce6" fill-opacity="0.85" filter="url(#f1_0)"/><ellipse cx="110.6" cy="26.8" rx="1.2" ry="1.4" fill="#84bce6" fill-opacity="0.85" filter="url(#f1_0)"/><ellipse cx="99.5" cy="40.5" rx="2.5" ry="1.2" fill="#a6d1ee" fill-opacity="0.85" filter="url(#f1_0)"/><ellipse cx="122.1" cy="19.7" rx="1.7" ry="2.1" fill="#a6d1ee" fill-opacity="0.85" filter="url(#f1_0)"/><ellipse cx="99.3" cy="42.8" rx="1.5" ry="1.9" fill="#cae4f5" fill-opacity="0.85" filter="url(#f1_0)"/><ellipse cx="54.0" cy="176.7" rx="1.1" ry="1.5" fill="#a6d1ee" fill-opacity="0.85" filter="url(#f1_0)"/><ellipse cx="53.5" cy="181.8" rx="1.2" ry="1.6" fill="#84bce6" fill-opacity="0.85" filter="url(#f1_0)"/><ellipse cx="41.0" cy="186.4" rx="1.2" ry="1.5" fill="#84bce6" fill-opacity="0.85" filter="url(#f1_0)"/><ellipse cx="51.3" cy="179.9" rx="1.7" ry="1.5" fill="#a6d1ee" fill-opacity="0.85" filter="url(#f1_0)"/><ellipse cx="54.9" cy="167.5" rx="1.3" ry="1.9" fill="#84bce6" fill-opacity="0.85" filter="url(#f1_0)"/><ellipse cx="46.6" cy="171.1" rx="1.6" ry="2.4" fill="#cae4f5" fill-opacity="0.85" filter="url(#f1_0)"/><ellipse cx="49.5" cy="171.2" rx="2.1" ry="1.8" fill="#a6d1ee" fill-opacity="0.85" filter="url(#f1_0)"/><ellipse cx="60.7" cy="175.3" rx="2.3" ry="1.1" fill="#84bce6" fill-opacity="0.85" filter="url(#f1_0)"/><ellipse cx="58.3" cy="167.6" rx="1.4" ry="1.2" fill="#cae4f5" fill-opacity="0.85" filter="url(#f1_0)"/><ellipse cx="51.5" cy="185.9" rx="1.2" ry="2.1" fill="#84bce6" fill-opacity="0.85" filter="url(#f1_0)"/><ellipse cx="54.1" cy="174.0" rx="2.6" ry="1.2" fill="#a6d1ee" fill-opacity="0.85" filter="url(#f1_0)"/><ellipse cx="58.6" cy="183.4" rx="1.9" ry="1.3" fill="#a6d1ee" fill-opacity="0.85" filter="url(#f1_0)"/><ellipse cx="158.5" cy="81.3" rx="2.3" ry="1.0" fill="#84bce6" fill-opacity="0.85" filter="url(#f1_0)"/><ellipse cx="187.4" cy="98.7" rx="1.6" ry="1.9" fill="#a6d1ee" fill-opacity="0.85" filter="url(#f1_0)"/><ellipse cx="176.6" cy="99.4" rx="2.1" ry="1.5" fill="#84bce6" fill-opacity="0.85" filter="url(#f1_0)"/><ellipse cx="151.3" cy="79.8" rx="2.0" ry="1.2" fill="#a6d1ee" fill-opacity="0.85" filter="url(#f1_0)"/><ellipse cx="170.7" cy="88.1" rx="1.7" ry="1.3" fill="#a6d1ee" fill-opacity="0.85" filter="url(#f1_0)"/><ellipse cx="151.6" cy="87.5" rx="2.0" ry="1.7" fill="#a6d1ee" fill-opacity="0.85" filter="url(#f1_0)"/><ellipse cx="190.3" cy="97.3" rx="1.2" ry="2.3" fill="#cae4f5" fill-opacity="0.85" filter="url(#f1_0)"/><ellipse cx="151.1" cy="90.5" rx="1.8" ry="1.8" fill="#cae4f5" fill-opacity="0.85" filter="url(#f1_0)"/><ellipse cx="189.1" cy="83.1" rx="2.4" ry="2.1" fill="#a6d1ee" fill-opacity="0.85" filter="url(#f1_0)"/><ellipse cx="153.4" cy="96.0" rx="2.2" ry="1.1" fill="#cae4f5" fill-opacity="0.85" filter="url(#f1_0)"/><ellipse cx="181.1" cy="83.6" rx="2.3" ry="2.5" fill="#a6d1ee" fill-opacity="0.85" filter="url(#f1_0)"/><ellipse cx="168.4" cy="93.9" rx="1.8" ry="1.2" fill="#cae4f5" fill-opacity="0.85" filter="url(#f1_0)"/><ellipse cx="167.2" cy="96.1" rx="2.1" ry="1.6" fill="#84bce6" fill-opacity="0.85" filter="url(#f1_0)"/><ellipse cx="179.4" cy="88.4" rx="1.7" ry="2.0" fill="#a6d1ee" fill-opacity="0.85" filter="url(#f1_0)"/><ellipse cx="151.0" cy="86.4" rx="2.1" ry="1.7" fill="#84bce6" fill-opacity="0.85" filter="url(#f1_0)"/><ellipse cx="187.8" cy="93.0" rx="1.6" ry="1.6" fill="#a6d1ee" fill-opacity="0.85" filter="url(#f1_0)"/><ellipse cx="175.1" cy="80.6" rx="1.0" ry="1.3" fill="#a6d1ee" fill-opacity="0.85" filter="url(#f1_0)"/><ellipse cx="156.0" cy="86.5" rx="1.3" ry="1.3" fill="#a6d1ee" fill-opacity="0.85" filter="url(#f1_0)"/><ellipse cx="80.5" cy="112.6" rx="2.0" ry="1.2" fill="#a6d1ee" fill-opacity="0.85" filter="url(#f1_0)"/><ellipse cx="75.5" cy="104.6" rx="2.3" ry="1.6" fill="#a6d1ee" fill-opacity="0.85" filter="url(#f1_0)"/><ellipse cx="74.3" cy="117.6" rx="1.1" ry="1.6" fill="#84bce6" fill-opacity="0.85" filter="url(#f1_0)"/><ellipse cx="77.3" cy="122.7" rx="2.4" ry="1.4" fill="#84bce6" fill-opacity="0.85" filter="url(#f1_0)"/><ellipse cx="76.6" cy="104.1" rx="2.0" ry="1.6" fill="#cae4f5" fill-opacity="0.85" filter="url(#f1_0)"/><ellipse cx="80.8" cy="120.2" rx="1.5" ry="2.6" fill="#84bce6" fill-opacity="0.85" filter="url(#f1_0)"/><ellipse cx="87.6" cy="124.0" rx="1.8" ry="1.9" fill="#cae4f5" fill-opacity="0.85" filter="url(#f1_0)"/><ellipse cx="88.5" cy="115.7" rx="1.6" ry="1.1" fill="#84bce6" fill-opacity="0.85" filter="url(#f1_0)"/><ellipse cx="93.9" cy="114.8" rx="1.0" ry="1.0" fill="#cae4f5" fill-opacity="0.85" filter="url(#f1_0)"/><ellipse cx="60.7" cy="112.6" rx="1.8" ry="1.3" fill="#a6d1ee" fill-opacity="0.85" filter="url(#f1_0)"/><ellipse cx="67.0" cy="124.3" rx="1.8" ry="2.3" fill="#a6d1ee" fill-opacity="0.85" filter="url(#f1_0)"/><ellipse cx="92.9" cy="100.9" rx="1.5" ry="2.0" fill="#84bce6" fill-opacity="0.85" filter="url(#f1_0)"/><ellipse cx="63.1" cy="107.3" rx="2.4" ry="1.2" fill="#84bce6" fill-opacity="0.85" filter="url(#f1_0)"/><ellipse cx="79.2" cy="113.4" rx="2.2" ry="1.6" fill="#84bce6" fill-opacity="0.85" filter="url(#f1_0)"/><ellipse cx="185.1" cy="8.3" rx="2.5" ry="1.6" fill="#84bce6" fill-opacity="0.85" filter="url(#f1_0)"/><ellipse cx="173.2" cy="6.7" rx="2.1" ry="1.6" fill="#a6d1ee" fill-opacity="0.85" filter="url(#f1_0)"/><ellipse cx="175.2" cy="11.3" rx="2.5" ry="2.1" fill="#84bce6" fill-opacity="0.85" filter="url(#f1_0)"/><ellipse cx="161.3" cy="2.6" rx="2.2" ry="2.3" fill="#cae4f5" fill-opacity="0.85" filter="url(#f1_0)"/><ellipse cx="182.8" cy="10.2" rx="1.2" ry="1.4" fill="#cae4f5" fill-opacity="0.85" filter="url(#f1_0)"/><ellipse cx="186.4" cy="13.1" rx="1.7" ry="2.4" fill="#a6d1ee" fill-opacity="0.85" filter="url(#f1_0)"/><ellipse cx="189.9" cy="0.0" rx="1.3" ry="2.3" fill="#cae4f5" fill-opacity="0.85" filter="url(#f1_0)"/><ellipse cx="170.2" cy="4.7" rx="1.7" ry="2.3" fill="#a6d1ee" fill-opacity="0.85" filter="url(#f1_0)"/><ellipse cx="167.2" cy="0.7" rx="1.2" ry="2.0" fill="#cae4f5" fill-opacity="0.85" filter="url(#f1_0)"/><ellipse cx="163.4" cy="4.3" rx="1.3" ry="2.4" fill="#84bce6" fill-opacity="0.85" filter="url(#f1_0)"/><ellipse cx="62" cy="80" rx="30" ry="19" transform="rotate(-70 62 80)" fill="#cae4f5" fill-opacity="0.95" filter="url(#f4)"/><ellipse cx="66" cy="77" rx="24" ry="12" transform="rotate(-65 66 77)" fill="#a6d1ee" fill-opacity="0.9" filter="url(#f3)"/><ellipse cx="71" cy="58" rx="9" ry="3.5" transform="rotate(-15 71 58)" fill="#84bce6" fill-opacity="0.8" filter="url(#f1_5)"/><ellipse cx="55" cy="50" rx="6" ry="2.5" transform="rotate(-25 55 50)" fill="#a6d1ee" fill-opacity="0.9" filter="url(#f1_5)"/><ellipse cx="66" cy="80" rx="16" ry="7" transform="rotate(-70 66 80)" fill="#84bce6" fill-opacity="0.9" filter="url(#f2)"/><ellipse cx="70" cy="71" rx="7" ry="4.5" transform="rotate(-20 70 71)" fill="#4682c3" fill-opacity="0.85" filter="url(#f1_3)"/><ellipse cx="64" cy="82" rx="7" ry="3.2" transform="rotate(-70 64 82)" fill="#5d9ed6" fill-opacity="0.85" filter="url(#f1_3)"/><ellipse cx="66" cy="96" rx="12" ry="3" transform="rotate(-5 66 96)" fill="#84bce6" fill-opacity="0.75" filter="url(#f1_5)"/><ellipse cx="68" cy="71.5" rx="5" ry="2.2" transform="rotate(-10 68 71.5)" fill="#50ab50" fill-opacity="0.95" filter="url(#f0_7)"/><ellipse cx="68.5" cy="71.3" rx="2" ry="1.2" fill="#f0dc48" fill-opacity="0.9" filter="url(#f0_5)"/><ellipse cx="69.7" cy="86.0" rx="2.1" ry="2.3" fill="#4682c3" fill-opacity="0.85" filter="url(#f0_9)"/><ellipse cx="70.3" cy="78.6" rx="2.2" ry="2.1" fill="#84bce6" fill-opacity="0.85" filter="url(#f0_9)"/><ellipse cx="70.3" cy="91.5" rx="1.2" ry="1.7" fill="#84bce6" fill-opacity="0.85" filter="url(#f0_9)"/><ellipse cx="64.4" cy="63.6" rx="1.3" ry="2.0" fill="#5d9ed6" fill-opacity="0.85" filter="url(#f0_9)"/><ellipse cx="62.1" cy="92.1" rx="2.1" ry="1.2" fill="#84bce6" fill-opacity="0.85" filter="url(#f0_9)"/><ellipse cx="59.1" cy="81.6" rx="1.2" ry="1.0" fill="#84bce6" fill-opacity="0.85" filter="url(#f0_9)"/><ellipse cx="60.6" cy="67.5" rx="2.4" ry="2.2" fill="#5d9ed6" fill-opacity="0.85" filter="url(#f0_9)"/><ellipse cx="62.9" cy="67.0" rx="2.2" ry="1.9" fill="#84bce6" fill-opacity="0.85" filter="url(#f0_9)"/><ellipse cx="76.7" cy="84.2" rx="2.4" ry="2.3" fill="#5d9ed6" fill-opacity="0.85" filter="url(#f0_9)"/><ellipse cx="56.5" cy="74.5" rx="2.3" ry="1.4" fill="#5d9ed6" fill-opacity="0.85" filter="url(#f0_9)"/><ellipse cx="62.6" cy="81.1" rx="1.0" ry="1.9" fill="#5d9ed6" fill-opacity="0.85" filter="url(#f0_9)"/><ellipse cx="57.5" cy="72.4" rx="1.4" ry="2.0" fill="#84bce6" fill-opacity="0.85" filter="url(#f0_9)"/><ellipse cx="66.6" cy="84.7" rx="1.1" ry="2.4" fill="#84bce6" fill-opacity="0.85" filter="url(#f0_9)"/><ellipse cx="76.9" cy="72.5" rx="1.6" ry="1.8" fill="#5d9ed6" fill-opacity="0.85" filter="url(#f0_9)"/><ellipse cx="64.1" cy="80.2" rx="1.0" ry="1.1" fill="#84bce6" fill-opacity="0.85" filter="url(#f0_9)"/><ellipse cx="69.7" cy="93.4" rx="1.2" ry="1.3" fill="#5d9ed6" fill-opacity="0.85" filter="url(#f0_9)"/><ellipse cx="125.1" cy="87.1" rx="1.7" ry="2.1" fill="#84bce6" fill-opacity="0.85" filter="url(#f0_9)"/><ellipse cx="134.4" cy="95.6" rx="1.5" ry="1.4" fill="#5d9ed6" fill-opacity="0.85" filter="url(#f0_9)"/><ellipse cx="147.9" cy="81.8" rx="1.5" ry="1.9" fill="#84bce6" fill-opacity="0.85" filter="url(#f0_9)"/><ellipse cx="124.9" cy="98.5" rx="1.8" ry="1.4" fill="#5d9ed6" fill-opacity="0.85" filter="url(#f0_9)"/><ellipse cx="123.6" cy="96.0" rx="1.9" ry="2.0" fill="#5d9ed6" fill-opacity="0.85" filter="url(#f0_9)"/><ellipse cx="149.9" cy="83.2" rx="1.1" ry="2.4" fill="#4682c3" fill-opacity="0.85" filter="url(#f0_9)"/><ellipse cx="147.1" cy="80.6" rx="2.0" ry="1.5" fill="#5d9ed6" fill-opacity="0.85" filter="url(#f0_9)"/><ellipse cx="129.3" cy="88.4" rx="1.1" ry="2.3" fill="#84bce6" fill-opacity="0.85" filter="url(#f0_9)"/><ellipse cx="142.5" cy="86.7" rx="1.3" ry="2.4" fill="#4682c3" fill-opacity="0.85" filter="url(#f0_9)"/><ellipse cx="148.1" cy="92.6" rx="2.1" ry="1.1" fill="#5d9ed6" fill-opacity="0.85" filter="url(#f0_9)"/><ellipse cx="159.3" cy="82.9" rx="1.6" ry="1.2" fill="#4682c3" fill-opacity="0.85" filter="url(#f0_9)"/><ellipse cx="171.3" cy="97.6" rx="1.6" ry="1.7" fill="#4682c3" fill-opacity="0.85" filter="url(#f0_9)"/><ellipse cx="157.9" cy="86.4" rx="1.7" ry="2.3" fill="#84bce6" fill-opacity="0.85" filter="url(#f0_9)"/><ellipse cx="159.4" cy="97.8" rx="2.3" ry="1.9" fill="#5d9ed6" fill-opacity="0.85" filter="url(#f0_9)"/><ellipse cx="171.7" cy="84.9" rx="1.7" ry="1.7" fill="#4682c3" fill-opacity="0.85" filter="url(#f0_9)"/><ellipse cx="171.7" cy="87.8" rx="2.1" ry="2.1" fill="#4682c3" fill-opacity="0.85" filter="url(#f0_9)"/><ellipse cx="132" cy="91" rx="38" ry="14" transform="rotate(-3 132 91)" fill="#cae4f5" fill-opacity="0.95" filter="url(#f4)"/><ellipse cx="108" cy="97" rx="18" ry="6" fill="#cae4f5" fill-opacity="0.8" filter="url(#f3)"/><ellipse cx="160" cy="88" rx="16" ry="8" transform="rotate(-10 160 88)" fill="#cae4f5" fill-opacity="0.8" filter="url(#f3)"/><ellipse cx="133" cy="89" rx="19" ry="10" transform="rotate(-5 133 89)" fill="#a6d1ee" fill-opacity="0.95" filter="url(#f2_5)"/><ellipse cx="135" cy="87" rx="12" ry="6" transform="rotate(-15 135 87)" fill="#84bce6" fill-opacity="0.8" filter="url(#f2)"/><ellipse cx="132" cy="93" rx="15" ry="6.5" transform="rotate(-5 132 93)" fill="#5d9ed6" fill-opacity="0.75" filter="url(#f1_5)"/><polygon points="117.5,100 124,90 130,87.5 137,87.5 143,92 146.5,99.5" fill="#50ab50" fill-opacity="0.95" filter="url(#f0_9)"/><ellipse cx="134" cy="94.5" rx="8.5" ry="4.8" fill="#f0dc48" fill-opacity="0.9" filter="url(#f0_8)"/><ellipse cx="131.5" cy="95.5" rx="5" ry="3.6" fill="#f29a38" fill-opacity="0.9" filter="url(#f0_7)"/><ellipse cx="131" cy="96" rx="3" ry="2.5" fill="#e2452b" fill-opacity="0.9" filter="url(#f0_6)"/><ellipse cx="138.4" cy="95" rx="2.2" ry="1.7" fill="#f29a38" fill-opacity="0.9" filter="url(#f0_5)"/><ellipse cx="141.3" cy="95.6" rx="1.8" ry="1.4" fill="#f29a38" fill-opacity="0.85" filter="url(#f0_5)"/><ellipse cx="134" cy="90.5" rx="2" ry="1.6" fill="#f0dc48" fill-opacity="0.9" filter="url(#f0_5)"/><ellipse cx="125" cy="94" rx="2" ry="1.5" fill="#f0dc48" fill-opacity="0.8" filter="url(#f0_5)"/><ellipse cx="138.8" cy="80.6" rx="5.5" ry="3.2" fill="#5d9ed6" fill-opacity="0.9" filter="url(#f1_2)"/><ellipse cx="138.8" cy="80.6" rx="3.5" ry="2" fill="#50ab50" fill-opacity="0.9" filter="url(#f0_7)"/><ellipse cx="138.8" cy="80.6" rx="2.2" ry="1.4" fill="#f0dc48" fill-opacity="0.95" filter="url(#f0_5)"/><ellipse cx="42" cy="176.5" rx="5" ry="3" fill="#84bce6" fill-opacity="0.8" filter="url(#f1_2)"/><ellipse cx="41.5" cy="176.8" rx="1.6" ry="1.2" fill="#b5cf4a" fill-opacity="0.9" filter="url(#f0_5)"/><ellipse cx="36.6" cy="162.1" rx="2" ry="1.5" fill="#84bce6" fill-opacity="0.8" filter="url(#f0_8)"/></g><g id="blobs_b"><ellipse cx="95" cy="30" rx="42" ry="13" transform="rotate(-25 95 30)" fill="#cae4f5" fill-opacity="0.8" filter="url(#f6)"/><ellipse cx="88" cy="40" rx="16" ry="6" transform="rotate(-30 88 40)" fill="#cae4f5" fill-opacity="0.8" filter="url(#f4)"/><ellipse cx="106" cy="20" rx="10" ry="12" fill="#cae4f5" fill-opacity="0.75" filter="url(#f5)"/><ellipse cx="88" cy="48" rx="12" ry="20" transform="rotate(-10 88 48)" fill="#cae4f5" fill-opacity="0.7" filter="url(#f5)"/><ellipse cx="108" cy="22" rx="7" ry="9" fill="#cae4f5" fill-opacity="0.8" filter="url(#f3)"/><ellipse cx="158" cy="6" rx="10" ry="6" fill="#e2f0fa" fill-opacity="0.9" filter="url(#f4)"/><ellipse cx="126" cy="6" rx="9" ry="6" fill="#cae4f5" fill-opacity="0.7" filter="url(#f3)"/><ellipse cx="106" cy="14" rx="10" ry="8" fill="#cae4f5" fill-opacity="0.7" filter="url(#f4)"/><ellipse cx="52" cy="50" rx="11" ry="6" transform="rotate(-30 52 50)" fill="#cae4f5" fill-opacity="0.9" filter="url(#f4)"/><ellipse cx="48" cy="45" rx="10" ry="8" fill="#e2f0fa" fill-opacity="0.9" filter="url(#f5)"/><ellipse cx="72" cy="35" rx="10" ry="10" fill="#e2f0fa" fill-opacity="0.9" filter="url(#f4)"/><ellipse cx="76" cy="36" rx="6" ry="6" fill="#cae4f5" fill-opacity="0.7" filter="url(#f3)"/><ellipse cx="108" cy="4" rx="14" ry="6" fill="#cae4f5" fill-opacity="0.9" filter="url(#f4)"/><ellipse cx="174" cy="8" rx="14" ry="8" fill="#cae4f5" fill-opacity="0.9" filter="url(#f4)"/><ellipse cx="180" cy="15" rx="10" ry="8" fill="#e2f0fa" fill-opacity="0.9" filter="url(#f4)"/><ellipse cx="160" cy="92" rx="22" ry="9" transform="rotate(-10 160 92)" fill="#e2f0fa" fill-opacity="0.9" filter="url(#f5)"/><ellipse cx="182" cy="84" rx="12" ry="16" fill="#e2f0fa" fill-opacity="0.8" filter="url(#f5)"/><ellipse cx="112" cy="106" rx="26" ry="7" transform="rotate(-8 112 106)" fill="#e2f0fa" fill-opacity="0.9" filter="url(#f5)"/><ellipse cx="74" cy="105" rx="20" ry="7" transform="rotate(-5 74 105)" fill="#e2f0fa" fill-opacity="0.9" filter="url(#f5)"/><ellipse cx="33" cy="96" rx="16" ry="5" transform="rotate(-15 33 96)" fill="#cae4f5" fill-opacity="0.7" filter="url(#f4)"/><ellipse cx="70" cy="118" rx="10" ry="6" fill="#cae4f5" fill-opacity="0.8" filter="url(#f4)"/><ellipse cx="113" cy="121" rx="8" ry="2.6" transform="rotate(-10 113 121)" fill="#a6d1ee" fill-opacity="0.85" filter="url(#f2_2)"/><ellipse cx="42" cy="176" rx="22" ry="13" fill="#cae4f5" fill-opacity="0.9" filter="url(#f5)"/><ellipse cx="22" cy="186" rx="9" ry="7" fill="#cae4f5" fill-opacity="0.8" filter="url(#f4)"/><ellipse cx="36" cy="162" rx="4" ry="3" fill="#cae4f5" fill-opacity="0.9" filter="url(#f2)"/><ellipse cx="42" cy="176.5" rx="7" ry="4" fill="#84bce6" fill-opacity="0.9" filter="url(#f2)"/><ellipse cx="63.4" cy="80.2" rx="3.6" ry="2.7" fill="#84bce6" fill-opacity="0.85" filter="url(#f1_6)"/><ellipse cx="77.1" cy="63.5" rx="3.4" ry="2.8" fill="#84bce6" fill-opacity="0.85" filter="url(#f1_6)"/><ellipse cx="75.0" cy="59.2" rx="2.4" ry="2.0" fill="#84bce6" fill-opacity="0.85" filter="url(#f1_6)"/><ellipse cx="69.6" cy="81.8" rx="2.6" ry="2.7" fill="#84bce6" fill-opacity="0.85" filter="url(#f1_6)"/><ellipse cx="68.9" cy="62.1" rx="1.8" ry="2.9" fill="#cae4f5" fill-opacity="0.85" filter="url(#f1_6)"/><ellipse cx="49.2" cy="94.6" rx="3.0" ry="3.4" fill="#a6d1ee" fill-opacity="0.85" filter="url(#f1_6)"/><ellipse cx="63.0" cy="92.9" rx="2.8" ry="3.1" fill="#a6d1ee" fill-opacity="0.85" filter="url(#f1_6)"/><ellipse cx="48.2" cy="58.8" rx="3.1" ry="2.6" fill="#84bce6" fill-opacity="0.85" filter="url(#f1_6)"/><ellipse cx="81.9" cy="92.8" rx="3.2" ry="2.4" fill="#cae4f5" fill-opacity="0.85" filter="url(#f1_6)"/><ellipse cx="65.4" cy="56.3" rx="2.9" ry="2.0" fill="#cae4f5" fill-opacity="0.85" filter="url(#f1_6)"/><ellipse cx="76.8" cy="72.4" rx="3.7" ry="3.5" fill="#cae4f5" fill-opacity="0.85" filter="url(#f1_6)"/><ellipse cx="55.3" cy="96.7" rx="1.9" ry="2.6" fill="#84bce6" fill-opacity="0.85" filter="url(#f1_6)"/><ellipse cx="61.5" cy="58.3" rx="3.1" ry="3.4" fill="#a6d1ee" fill-opacity="0.85" filter="url(#f1_6)"/><ellipse cx="59.5" cy="69.0" rx="1.8" ry="2.6" fill="#cae4f5" fill-opacity="0.85" filter="url(#f1_6)"/><ellipse cx="52.6" cy="86.8" rx="1.8" ry="2.7" fill="#a6d1ee" fill-opacity="0.85" filter="url(#f1_6)"/><ellipse cx="54.0" cy="80.2" rx="2.7" ry="2.2" fill="#84bce6" fill-opacity="0.85" filter="url(#f1_6)"/><ellipse cx="74.2" cy="73.9" rx="2.6" ry="2.6" fill="#cae4f5" fill-opacity="0.85" filter="url(#f1_6)"/><ellipse cx="48.0" cy="93.9" rx="3.7" ry="3.0" fill="#cae4f5" fill-opacity="0.85" filter="url(#f1_6)"/><ellipse cx="55.2" cy="72.7" rx="3.5" ry="3.1" fill="#cae4f5" fill-opacity="0.85" filter="url(#f1_6)"/><ellipse cx="49.4" cy="61.6" rx="2.7" ry="1.8" fill="#84bce6" fill-opacity="0.85" filter="url(#f1_6)"/><ellipse cx="59.2" cy="68.3" rx="1.9" ry="2.0" fill="#84bce6" fill-opacity="0.85" filter="url(#f1_6)"/><ellipse cx="69.6" cy="55.7" rx="2.5" ry="3.0" fill="#cae4f5" fill-opacity="0.85" filter="url(#f1_6)"/><ellipse cx="149.9" cy="91.7" rx="2.9" ry="3.5" fill="#cae4f5" fill-opacity="0.85" filter="url(#f1_6)"/><ellipse cx="132.6" cy="88.2" rx="2.3" ry="3.0" fill="#84bce6" fill-opacity="0.85" filter="url(#f1_6)"/><ellipse cx="109.9" cy="96.8" rx="3.7" ry="2.2" fill="#a6d1ee" fill-opacity="0.85" filter="url(#f1_6)"/><ellipse cx="145.9" cy="94.1" rx="2.6" ry="2.0" fill="#cae4f5" fill-opacity="0.85" filter="url(#f1_6)"/><ellipse cx="126.6" cy="87.1" rx="3.3" ry="2.6" fill="#a6d1ee" fill-opacity="0.85" filter="url(#f1_6)"/><ellipse cx="142.8" cy="93.9" rx="2.4" ry="2.2" fill="#84bce6" fill-opacity="0.85" filter="url(#f1_6)"/><ellipse cx="150.8" cy="84.5" rx="2.8" ry="3.1" fill="#84bce6" fill-opacity="0.85" filter="url(#f1_6)"/><ellipse cx="131.9" cy="87.6" rx="3.6" ry="2.2" fill="#cae4f5" fill-opacity="0.85" filter="url(#f1_6)"/><ellipse cx="103.6" cy="90.2" rx="2.3" ry="1.9" fill="#a6d1ee" fill-opacity="0.85" filter="url(#f1_6)"/><ellipse cx="119.2" cy="93.4" rx="2.1" ry="2.5" fill="#a6d1ee" fill-opacity="0.85" filter="url(#f1_6)"/><ellipse cx="151.0" cy="95.1" rx="3.2" ry="3.0" fill="#cae4f5" fill-opacity="0.85" filter="url(#f1_6)"/><ellipse cx="130.7" cy="100.5" rx="2.7" ry="2.5" fill="#a6d1ee" fill-opacity="0.85" filter="url(#f1_6)"/><ellipse cx="150.1" cy="82.4" rx="3.1" ry="2.8" fill="#84bce6" fill-opacity="0.85" filter="url(#f1_6)"/><ellipse cx="116.2" cy="84.7" rx="1.9" ry="2.7" fill="#a6d1ee" fill-opacity="0.85" filter="url(#f1_6)"/><ellipse cx="175.8" cy="98.0" rx="3.3" ry="3.2" fill="#a6d1ee" fill-opacity="0.85" filter="url(#f1_6)"/><ellipse cx="162.3" cy="93.7" rx="3.6" ry="3.5" fill="#a6d1ee" fill-opacity="0.85" filter="url(#f1_6)"/><ellipse cx="183.0" cy="80.6" rx="2.8" ry="1.8" fill="#84bce6" fill-opacity="0.85" filter="url(#f1_6)"/><ellipse cx="163.4" cy="91.7" rx="3.0" ry="2.0" fill="#84bce6" fill-opacity="0.85" filter="url(#f1_6)"/><ellipse cx="154.0" cy="85.1" rx="2.6" ry="2.5" fill="#84bce6" fill-opacity="0.85" filter="url(#f1_6)"/><ellipse cx="174.3" cy="89.2" rx="2.7" ry="2.9" fill="#84bce6" fill-opacity="0.85" filter="url(#f1_6)"/><ellipse cx="176.3" cy="80.6" rx="3.0" ry="2.8" fill="#cae4f5" fill-opacity="0.85" filter="url(#f1_6)"/><ellipse cx="183.5" cy="82.3" rx="3.4" ry="3.1" fill="#a6d1ee" fill-opacity="0.85" filter="url(#f1_6)"/><ellipse cx="30.2" cy="168.2" rx="2.4" ry="3.2" fill="#cae4f5" fill-opacity="0.85" filter="url(#f1_6)"/><ellipse cx="40.7" cy="184.6" rx="2.5" ry="3.7" fill="#a6d1ee" fill-opacity="0.85" filter="url(#f1_6)"/><ellipse cx="55.7" cy="175.2" rx="3.1" ry="2.2" fill="#a6d1ee" fill-opacity="0.85" filter="url(#f1_6)"/><ellipse cx="52.1" cy="184.6" rx="2.2" ry="2.2" fill="#cae4f5" fill-opacity="0.85" filter="url(#f1_6)"/><ellipse cx="43.3" cy="175.0" rx="2.1" ry="2.8" fill="#cae4f5" fill-opacity="0.85" filter="url(#f1_6)"/><ellipse cx="48.4" cy="188.9" rx="2.4" ry="2.1" fill="#a6d1ee" fill-opacity="0.85" filter="url(#f1_6)"/><ellipse cx="38.9" cy="188.4" rx="3.5" ry="2.6" fill="#84bce6" fill-opacity="0.85" filter="url(#f1_6)"/><ellipse cx="39.8" cy="174.9" rx="3.5" ry="3.8" fill="#a6d1ee" fill-opacity="0.85" filter="url(#f1_6)"/><ellipse cx="72.8" cy="120.7" rx="2.4" ry="3.0" fill="#84bce6" fill-opacity="0.85" filter="url(#f1_6)"/><ellipse cx="88.3" cy="114.3" rx="2.4" ry="3.4" fill="#cae4f5" fill-opacity="0.85" filter="url(#f1_6)"/><ellipse cx="85.6" cy="110.1" rx="2.2" ry="3.3" fill="#a6d1ee" fill-opacity="0.85" filter="url(#f1_6)"/><ellipse cx="69.5" cy="103.5" rx="1.9" ry="3.1" fill="#a6d1ee" fill-opacity="0.85" filter="url(#f1_6)"/><ellipse cx="64.4" cy="113.4" rx="3.1" ry="2.5" fill="#cae4f5" fill-opacity="0.85" filter="url(#f1_6)"/><ellipse cx="87.4" cy="105.0" rx="2.8" ry="2.2" fill="#cae4f5" fill-opacity="0.85" filter="url(#f1_6)"/><ellipse cx="90.2" cy="113.4" rx="1.9" ry="2.3" fill="#a6d1ee" fill-opacity="0.85" filter="url(#f1_6)"/><ellipse cx="81.6" cy="123.7" rx="2.8" ry="3.8" fill="#cae4f5" fill-opacity="0.85" filter="url(#f1_6)"/><ellipse cx="96.6" cy="33.5" rx="3.8" ry="3.5" fill="#cae4f5" fill-opacity="0.85" filter="url(#f2)"/><ellipse cx="129.6" cy="25.6" rx="4.4" ry="2.9" fill="#cae4f5" fill-opacity="0.85" filter="url(#f2)"/><ellipse cx="121.5" cy="8.5" rx="4.4" ry="3.4" fill="#cae4f5" fill-opacity="0.85" filter="url(#f2)"/><ellipse cx="121.8" cy="16.6" rx="3.0" ry="2.6" fill="#a6d1ee" fill-opacity="0.85" filter="url(#f2)"/><ellipse cx="114.6" cy="9.3" rx="3.2" ry="3.5" fill="#cae4f5" fill-opacity="0.85" filter="url(#f2)"/><ellipse cx="116.0" cy="42.7" rx="2.5" ry="4.0" fill="#cae4f5" fill-opacity="0.85" filter="url(#f2)"/><ellipse cx="95.0" cy="42.3" rx="3.4" ry="3.6" fill="#a6d1ee" fill-opacity="0.85" filter="url(#f2)"/><ellipse cx="106.1" cy="13.6" rx="3.8" ry="3.4" fill="#cae4f5" fill-opacity="0.85" filter="url(#f2)"/><ellipse cx="93.0" cy="15.3" rx="3.8" ry="4.1" fill="#cae4f5" fill-opacity="0.85" filter="url(#f2)"/><ellipse cx="94.9" cy="25.6" rx="4.2" ry="2.9" fill="#cae4f5" fill-opacity="0.85" filter="url(#f2)"/><ellipse cx="62" cy="80" rx="32" ry="20" transform="rotate(-70 62 80)" fill="#cae4f5" fill-opacity="0.95" filter="url(#f5)"/><ellipse cx="65" cy="79" rx="26" ry="13" transform="rotate(-68 65 79)" fill="#a6d1ee" fill-opacity="0.9" filter="url(#f3_5)"/><ellipse cx="71" cy="56" rx="11" ry="4" transform="rotate(-20 71 56)" fill="#84bce6" fill-opacity="0.85" filter="url(#f2)"/><ellipse cx="70" cy="55.5" rx="4" ry="2.5" transform="rotate(-20 70 55.5)" fill="#5d9ed6" fill-opacity="0.8" filter="url(#f1_5)"/><ellipse cx="53" cy="51" rx="7" ry="3" transform="rotate(-25 53 51)" fill="#a6d1ee" fill-opacity="0.9" filter="url(#f2)"/><ellipse cx="65" cy="82" rx="19" ry="9" transform="rotate(-70 65 82)" fill="#84bce6" fill-opacity="0.9" filter="url(#f2_5)"/><ellipse cx="71" cy="70.5" rx="7" ry="4.5" transform="rotate(-20 71 70.5)" fill="#4682c3" fill-opacity="0.85" filter="url(#f1_8)"/><ellipse cx="62" cy="86" rx="9" ry="4" transform="rotate(-70 62 86)" fill="#5d9ed6" fill-opacity="0.85" filter="url(#f2)"/><ellipse cx="66" cy="78" rx="5" ry="3" transform="rotate(-70 66 78)" fill="#5d9ed6" fill-opacity="0.8" filter="url(#f1_5)"/><ellipse cx="66" cy="97" rx="13" ry="3.2" transform="rotate(-5 66 97)" fill="#84bce6" fill-opacity="0.75" filter="url(#f2)"/><ellipse cx="70.8" cy="70.9" rx="5" ry="2.3" transform="rotate(-10 70.8 70.9)" fill="#50ab50" fill-opacity="0.95" filter="url(#f1_0)"/><ellipse cx="132" cy="91" rx="40" ry="15" transform="rotate(-3 132 91)" fill="#cae4f5" fill-opacity="0.95" filter="url(#f5)"/><ellipse cx="108" cy="97" rx="18" ry="6" fill="#cae4f5" fill-opacity="0.85" filter="url(#f4)"/><ellipse cx="160" cy="88" rx="16" ry="8" transform="rotate(-10 160 88)" fill="#cae4f5" fill-opacity="0.8" filter="url(#f4)"/><ellipse cx="122" cy="78" rx="10" ry="4" fill="#a6d1ee" fill-opacity="0.7" filter="url(#f3)"/><ellipse cx="132" cy="90" rx="22" ry="11" transform="rotate(-5 132 90)" fill="#a6d1ee" fill-opacity="0.95" filter="url(#f3)"/><ellipse cx="135" cy="86" rx="13" ry="7" transform="rotate(-15 135 86)" fill="#84bce6" fill-opacity="0.8" filter="url(#f2_5)"/><ellipse cx="138.5" cy="80" rx="7" ry="4" transform="rotate(15 138.5 80)" fill="#4682c3" fill-opacity="0.85" filter="url(#f2)"/><ellipse cx="132" cy="93" rx="16" ry="6.5" transform="rotate(-5 132 93)" fill="#5d9ed6" fill-opacity="0.7" filter="url(#f2)"/><ellipse cx="119" cy="97" rx="5" ry="3" fill="#5d9ed6" fill-opacity="0.7" filter="url(#f1_5)"/><ellipse cx="121" cy="96.5" rx="4" ry="2.5" fill="#4682c3" fill-opacity="0.7" filter="url(#f1_5)"/><polygon points="117.5,100 136.5,86 146.5,99" fill="#50ab50" fill-opacity="0.95" filter="url(#f1_3)"/><ellipse cx="131.8" cy="95" rx="11" ry="4.8" fill="#50ab50" fill-opacity="0.9" filter="url(#f1_2)"/><ellipse cx="133" cy="93.5" rx="7.5" ry="5.3" fill="#f0dc48" fill-opacity="0.95" filter="url(#f1_0)"/><ellipse cx="130.3" cy="93.4" rx="1.8" ry="1.5" fill="#f29a38" fill-opacity="0.9" filter="url(#f0_6)"/></g><g id="blobs_c"><ellipse cx="95" cy="30" rx="42" ry="13" transform="rotate(-25 95 30)" fill="#cae4f5" fill-opacity="0.8" filter="url(#f6)"/><ellipse cx="88" cy="40" rx="16" ry="6" transform="rotate(-30 88 40)" fill="#cae4f5" fill-opacity="0.8" filter="url(#f4)"/><ellipse cx="106" cy="20" rx="10" ry="12" fill="#cae4f5" fill-opacity="0.75" filter="url(#f5)"/><ellipse cx="88" cy="48" rx="12" ry="20" transform="rotate(-10 88 48)" fill="#cae4f5" fill-opacity="0.7" filter="url(#f5)"/><ellipse cx="108" cy="22" rx="7" ry="9" fill="#cae4f5" fill-opacity="0.8" filter="url(#f3)"/><ellipse cx="158" cy="6" rx="10" ry="6" fill="#e2f0fa" fill-opacity="0.9" filter="url(#f4)"/><ellipse cx="126" cy="6" rx="9" ry="6" fill="#cae4f5" fill-opacity="0.7" filter="url(#f3)"/><ellipse cx="106" cy="14" rx="10" ry="8" fill="#cae4f5" fill-opacity="0.7" filter="url(#f4)"/><ellipse cx="52" cy="50" rx="11" ry="6" transform="rotate(-30 52 50)" fill="#cae4f5" fill-opacity="0.9" filter="url(#f4)"/><ellipse cx="48" cy="45" rx="10" ry="8" fill="#e2f0fa" fill-opacity="0.9" filter="url(#f5)"/><ellipse cx="72" cy="35" rx="10" ry="10" fill="#e2f0fa" fill-opacity="0.9" filter="url(#f4)"/><ellipse cx="76" cy="36" rx="6" ry="6" fill="#cae4f5" fill-opacity="0.7" filter="url(#f3)"/><ellipse cx="108" cy="4" rx="14" ry="6" fill="#cae4f5" fill-opacity="0.9" filter="url(#f4)"/><ellipse cx="174" cy="8" rx="14" ry="8" fill="#cae4f5" fill-opacity="0.9" filter="url(#f4)"/><ellipse cx="180" cy="15" rx="10" ry="8" fill="#e2f0fa" fill-opacity="0.9" filter="url(#f4)"/><ellipse cx="160" cy="92" rx="22" ry="9" transform="rotate(-10 160 92)" fill="#e2f0fa" fill-opacity="0.9" filter="url(#f5)"/><ellipse cx="182" cy="84" rx="12" ry="16" fill="#e2f0fa" fill-opacity="0.8" filter="url(#f5)"/><ellipse cx="112" cy="106" rx="26" ry="7" transform="rotate(-8 112 106)" fill="#e2f0fa" fill-opacity="0.9" filter="url(#f5)"/><ellipse cx="74" cy="105" rx="20" ry="7" transform="rotate(-5 74 105)" fill="#e2f0fa" fill-opacity="0.9" filter="url(#f5)"/><ellipse cx="33" cy="96" rx="16" ry="5" transform="rotate(-15 33 96)" fill="#cae4f5" fill-opacity="0.7" filter="url(#f4)"/><ellipse cx="70" cy="118" rx="10" ry="6" fill="#cae4f5" fill-opacity="0.8" filter="url(#f4)"/><ellipse cx="113" cy="121" rx="8" ry="2.6" transform="rotate(-10 113 121)" fill="#a6d1ee" fill-opacity="0.85" filter="url(#f2_2)"/><ellipse cx="42" cy="176" rx="22" ry="13" fill="#cae4f5" fill-opacity="0.9" filter="url(#f5)"/><ellipse cx="22" cy="186" rx="9" ry="7" fill="#cae4f5" fill-opacity="0.8" filter="url(#f4)"/><ellipse cx="36" cy="162" rx="4" ry="3" fill="#cae4f5" fill-opacity="0.9" filter="url(#f2)"/><ellipse cx="42" cy="176.5" rx="7" ry="4" fill="#84bce6" fill-opacity="0.9" filter="url(#f2)"/><ellipse cx="64.1" cy="84.6" rx="3.1" ry="2.1" fill="#cae4f5" fill-opacity="0.85" filter="url(#f1_6)"/><ellipse cx="81.9" cy="76.7" rx="3.1" ry="2.7" fill="#84bce6" fill-opacity="0.85" filter="url(#f1_6)"/><ellipse cx="55.7" cy="55.1" rx="3.0" ry="3.8" fill="#a6d1ee" fill-opacity="0.85" filter="url(#f1_6)"/><ellipse cx="53.5" cy="95.8" rx="1.9" ry="3.4" fill="#cae4f5" fill-opacity="0.85" filter="url(#f1_6)"/><ellipse cx="65.5" cy="91.9" rx="3.2" ry="3.4" fill="#cae4f5" fill-opacity="0.85" filter="url(#f1_6)"/><ellipse cx="48.6" cy="57.7" rx="3.6" ry="2.8" fill="#cae4f5" fill-opacity="0.85" filter="url(#f1_6)"/><ellipse cx="81.6" cy="74.1" rx="2.7" ry="3.1" fill="#cae4f5" fill-opacity="0.85" filter="url(#f1_6)"/><ellipse cx="66.3" cy="94.7" rx="2.9" ry="3.8" fill="#cae4f5" fill-opacity="0.85" filter="url(#f1_6)"/><ellipse cx="66.9" cy="77.8" rx="2.0" ry="3.0" fill="#84bce6" fill-opacity="0.85" filter="url(#f1_6)"/><ellipse cx="68.3" cy="76.5" rx="2.6" ry="1.9" fill="#84bce6" fill-opacity="0.85" filter="url(#f1_6)"/><ellipse cx="50.8" cy="63.6" rx="3.4" ry="2.3" fill="#a6d1ee" fill-opacity="0.85" filter="url(#f1_6)"/><ellipse cx="77.4" cy="72.4" rx="2.4" ry="2.3" fill="#a6d1ee" fill-opacity="0.85" filter="url(#f1_6)"/><ellipse cx="60.4" cy="78.0" rx="3.4" ry="2.8" fill="#cae4f5" fill-opacity="0.85" filter="url(#f1_6)"/><ellipse cx="61.0" cy="93.7" rx="1.9" ry="1.9" fill="#84bce6" fill-opacity="0.85" filter="url(#f1_6)"/><ellipse cx="62.5" cy="72.5" rx="3.3" ry="2.0" fill="#84bce6" fill-opacity="0.85" filter="url(#f1_6)"/><ellipse cx="55.5" cy="58.5" rx="2.3" ry="2.7" fill="#a6d1ee" fill-opacity="0.85" filter="url(#f1_6)"/><ellipse cx="59.7" cy="83.7" rx="1.9" ry="2.7" fill="#cae4f5" fill-opacity="0.85" filter="url(#f1_6)"/><ellipse cx="59.5" cy="75.5" rx="3.2" ry="3.5" fill="#cae4f5" fill-opacity="0.85" filter="url(#f1_6)"/><ellipse cx="80.5" cy="62.5" rx="3.6" ry="2.5" fill="#cae4f5" fill-opacity="0.85" filter="url(#f1_6)"/><ellipse cx="74.1" cy="64.9" rx="3.0" ry="3.7" fill="#a6d1ee" fill-opacity="0.85" filter="url(#f1_6)"/><ellipse cx="54.1" cy="90.8" rx="2.8" ry="2.3" fill="#cae4f5" fill-opacity="0.85" filter="url(#f1_6)"/><ellipse cx="81.4" cy="99.9" rx="2.8" ry="1.8" fill="#a6d1ee" fill-opacity="0.85" filter="url(#f1_6)"/><ellipse cx="145.9" cy="95.4" rx="2.4" ry="2.0" fill="#84bce6" fill-opacity="0.85" filter="url(#f1_6)"/><ellipse cx="126.1" cy="91.8" rx="2.5" ry="3.2" fill="#a6d1ee" fill-opacity="0.85" filter="url(#f1_6)"/><ellipse cx="146.5" cy="85.2" rx="2.4" ry="3.5" fill="#a6d1ee" fill-opacity="0.85" filter="url(#f1_6)"/><ellipse cx="117.2" cy="99.2" rx="3.1" ry="2.7" fill="#cae4f5" fill-opacity="0.85" filter="url(#f1_6)"/><ellipse cx="138.2" cy="92.4" rx="1.9" ry="1.8" fill="#cae4f5" fill-opacity="0.85" filter="url(#f1_6)"/><ellipse cx="106.9" cy="99.7" rx="2.6" ry="2.3" fill="#a6d1ee" fill-opacity="0.85" filter="url(#f1_6)"/><ellipse cx="124.5" cy="83.2" rx="2.9" ry="3.2" fill="#a6d1ee" fill-opacity="0.85" filter="url(#f1_6)"/><ellipse cx="139.5" cy="90.4" rx="3.0" ry="3.6" fill="#cae4f5" fill-opacity="0.85" filter="url(#f1_6)"/><ellipse cx="130.2" cy="88.9" rx="2.5" ry="3.3" fill="#84bce6" fill-opacity="0.85" filter="url(#f1_6)"/><ellipse cx="108.4" cy="95.8" rx="2.1" ry="1.9" fill="#cae4f5" fill-opacity="0.85" filter="url(#f1_6)"/><ellipse cx="146.7" cy="100.2" rx="2.9" ry="3.4" fill="#a6d1ee" fill-opacity="0.85" filter="url(#f1_6)"/><ellipse cx="141.2" cy="96.2" rx="2.2" ry="2.3" fill="#84bce6" fill-opacity="0.85" filter="url(#f1_6)"/><ellipse cx="135.7" cy="91.8" rx="3.0" ry="2.2" fill="#84bce6" fill-opacity="0.85" filter="url(#f1_6)"/><ellipse cx="136.4" cy="89.9" rx="2.3" ry="2.6" fill="#a6d1ee" fill-opacity="0.85" filter="url(#f1_6)"/><ellipse cx="152.9" cy="86.6" rx="3.2" ry="3.2" fill="#a6d1ee" fill-opacity="0.85" filter="url(#f1_6)"/><ellipse cx="174.4" cy="95.2" rx="3.1" ry="3.7" fill="#a6d1ee" fill-opacity="0.85" filter="url(#f1_6)"/><ellipse cx="156.2" cy="84.2" rx="3.0" ry="2.8" fill="#cae4f5" fill-opacity="0.85" filter="url(#f1_6)"/><ellipse cx="173.4" cy="86.8" rx="2.3" ry="2.5" fill="#cae4f5" fill-opacity="0.85" filter="url(#f1_6)"/><ellipse cx="150.3" cy="87.2" rx="2.4" ry="2.2" fill="#a6d1ee" fill-opacity="0.85" filter="url(#f1_6)"/><ellipse cx="160.4" cy="90.3" rx="2.1" ry="3.6" fill="#a6d1ee" fill-opacity="0.85" filter="url(#f1_6)"/><ellipse cx="155.7" cy="89.3" rx="3.0" ry="3.5" fill="#cae4f5" fill-opacity="0.85" filter="url(#f1_6)"/><ellipse cx="166.1" cy="95.7" rx="1.9" ry="3.3" fill="#a6d1ee" fill-opacity="0.85" filter="url(#f1_6)"/><ellipse cx="41.5" cy="184.7" rx="2.6" ry="3.1" fill="#84bce6" fill-opacity="0.85" filter="url(#f1_6)"/><ellipse cx="22.1" cy="170.3" rx="2.9" ry="2.4" fill="#84bce6" fill-opacity="0.85" filter="url(#f1_6)"/><ellipse cx="20.7" cy="185.1" rx="3.6" ry="3.1" fill="#cae4f5" fill-opacity="0.85" filter="url(#f1_6)"/><ellipse cx="25.4" cy="173.0" rx="2.9" ry="2.3" fill="#cae4f5" fill-opacity="0.85" filter="url(#f1_6)"/><ellipse cx="37.2" cy="176.0" rx="2.6" ry="3.1" fill="#a6d1ee" fill-opacity="0.85" filter="url(#f1_6)"/><ellipse cx="35.6" cy="187.2" rx="3.6" ry="2.4" fill="#cae4f5" fill-opacity="0.85" filter="url(#f1_6)"/><ellipse cx="30.4" cy="168.7" rx="3.1" ry="3.4" fill="#a6d1ee" fill-opacity="0.85" filter="url(#f1_6)"/><ellipse cx="36.5" cy="181.6" rx="2.3" ry="2.6" fill="#a6d1ee" fill-opacity="0.85" filter="url(#f1_6)"/><ellipse cx="79.7" cy="123.5" rx="3.4" ry="2.2" fill="#cae4f5" fill-opacity="0.85" filter="url(#f1_6)"/><ellipse cx="93.4" cy="102.7" rx="2.3" ry="3.6" fill="#84bce6" fill-opacity="0.85" filter="url(#f1_6)"/><ellipse cx="94.9" cy="120.5" rx="2.5" ry="3.3" fill="#a6d1ee" fill-opacity="0.85" filter="url(#f1_6)"/><ellipse cx="90.8" cy="121.5" rx="2.4" ry="3.5" fill="#84bce6" fill-opacity="0.85" filter="url(#f1_6)"/><ellipse cx="95.2" cy="100.6" rx="2.4" ry="1.8" fill="#cae4f5" fill-opacity="0.85" filter="url(#f1_6)"/><ellipse cx="67.8" cy="104.9" rx="3.4" ry="3.7" fill="#cae4f5" fill-opacity="0.85" filter="url(#f1_6)"/><ellipse cx="90.9" cy="113.7" rx="1.8" ry="3.6" fill="#a6d1ee" fill-opacity="0.85" filter="url(#f1_6)"/><ellipse cx="87.4" cy="113.4" rx="2.7" ry="2.9" fill="#84bce6" fill-opacity="0.85" filter="url(#f1_6)"/><ellipse cx="128.3" cy="13.2" rx="2.5" ry="4.5" fill="#cae4f5" fill-opacity="0.85" filter="url(#f2)"/><ellipse cx="118.1" cy="35.4" rx="4.3" ry="4.1" fill="#cae4f5" fill-opacity="0.85" filter="url(#f2)"/><ellipse cx="99.3" cy="43.5" rx="3.1" ry="3.7" fill="#a6d1ee" fill-opacity="0.85" filter="url(#f2)"/><ellipse cx="118.3" cy="9.8" rx="4.3" ry="3.7" fill="#a6d1ee" fill-opacity="0.85" filter="url(#f2)"/><ellipse cx="106.9" cy="14.7" rx="2.7" ry="3.6" fill="#cae4f5" fill-opacity="0.85" filter="url(#f2)"/><ellipse cx="117.9" cy="30.7" rx="3.0" ry="4.4" fill="#a6d1ee" fill-opacity="0.85" filter="url(#f2)"/><ellipse cx="126.0" cy="40.2" rx="4.4" ry="3.5" fill="#a6d1ee" fill-opacity="0.85" filter="url(#f2)"/><ellipse cx="123.0" cy="32.7" rx="2.9" ry="2.6" fill="#cae4f5" fill-opacity="0.85" filter="url(#f2)"/><ellipse cx="106.8" cy="17.3" rx="3.1" ry="4.3" fill="#a6d1ee" fill-opacity="0.85" filter="url(#f2)"/><ellipse cx="116.4" cy="41.9" rx="3.1" ry="3.2" fill="#cae4f5" fill-opacity="0.85" filter="url(#f2)"/><ellipse cx="62" cy="80" rx="32" ry="20" transform="rotate(-70 62 80)" fill="#cae4f5" fill-opacity="0.95" filter="url(#f5)"/><ellipse cx="65" cy="79" rx="26" ry="13" transform="rotate(-68 65 79)" fill="#a6d1ee" fill-opacity="0.9" filter="url(#f3_5)"/><ellipse cx="71" cy="56" rx="11" ry="4" transform="rotate(-20 71 56)" fill="#84bce6" fill-opacity="0.85" filter="url(#f2)"/><ellipse cx="70" cy="55.5" rx="4" ry="2.5" transform="rotate(-20 70 55.5)" fill="#5d9ed6" fill-opacity="0.8" filter="url(#f1_5)"/><ellipse cx="53" cy="51" rx="7" ry="3" transform="rotate(-25 53 51)" fill="#a6d1ee" fill-opacity="0.9" filter="url(#f2)"/><ellipse cx="65" cy="82" rx="19" ry="9" transform="rotate(-70 65 82)" fill="#84bce6" fill-opacity="0.9" filter="url(#f2_5)"/><ellipse cx="71" cy="70.5" rx="7" ry="4.5" transform="rotate(-20 71 70.5)" fill="#4682c3" fill-opacity="0.85" filter="url(#f1_8)"/><ellipse cx="62" cy="86" rx="9" ry="4" transform="rotate(-70 62 86)" fill="#5d9ed6" fill-opacity="0.85" filter="url(#f2)"/><ellipse cx="66" cy="78" rx="5" ry="3" transform="rotate(-70 66 78)" fill="#5d9ed6" fill-opacity="0.8" filter="url(#f1_5)"/><ellipse cx="66" cy="97" rx="13" ry="3.2" transform="rotate(-5 66 97)" fill="#84bce6" fill-opacity="0.75" filter="url(#f2)"/><ellipse cx="70.8" cy="70.9" rx="5" ry="2.3" transform="rotate(-10 70.8 70.9)" fill="#50ab50" fill-opacity="0.95" filter="url(#f1_0)"/><ellipse cx="132" cy="91" rx="40" ry="15" transform="rotate(-3 132 91)" fill="#cae4f5" fill-opacity="0.95" filter="url(#f5)"/><ellipse cx="108" cy="97" rx="18" ry="6" fill="#cae4f5" fill-opacity="0.85" filter="url(#f4)"/><ellipse cx="160" cy="88" rx="16" ry="8" transform="rotate(-10 160 88)" fill="#cae4f5" fill-opacity="0.8" filter="url(#f4)"/><ellipse cx="122" cy="78" rx="10" ry="4" fill="#a6d1ee" fill-opacity="0.7" filter="url(#f3)"/><ellipse cx="132" cy="90" rx="22" ry="11" transform="rotate(-5 132 90)" fill="#a6d1ee" fill-opacity="0.95" filter="url(#f3)"/><ellipse cx="135" cy="86" rx="13" ry="7" transform="rotate(-15 135 86)" fill="#84bce6" fill-opacity="0.8" filter="url(#f2_5)"/><ellipse cx="138.5" cy="80" rx="7" ry="4" transform="rotate(15 138.5 80)" fill="#4682c3" fill-opacity="0.85" filter="url(#f2)"/><ellipse cx="132" cy="93" rx="16" ry="6.5" transform="rotate(-5 132 93)" fill="#5d9ed6" fill-opacity="0.7" filter="url(#f2)"/><ellipse cx="119" cy="97" rx="5" ry="3" fill="#5d9ed6" fill-opacity="0.7" filter="url(#f1_5)"/><ellipse cx="121" cy="96.5" rx="4" ry="2.5" fill="#4682c3" fill-opacity="0.7" filter="url(#f1_5)"/><polygon points="117.5,100 136.5,86 146.5,99" fill="#50ab50" fill-opacity="0.95" filter="url(#f1_3)"/><ellipse cx="131.8" cy="95" rx="11" ry="4.8" fill="#50ab50" fill-opacity="0.9" filter="url(#f1_2)"/><ellipse cx="133" cy="93.5" rx="7.5" ry="5.3" fill="#f0dc48" fill-opacity="0.95" filter="url(#f1_0)"/><ellipse cx="130.3" cy="93.4" rx="1.8" ry="1.5" fill="#f29a38" fill-opacity="0.9" filter="url(#f0_6)"/></g><g id="blobs_d"><ellipse cx="95" cy="30" rx="42" ry="13" transform="rotate(-25 95 30)" fill="#cae4f5" fill-opacity="0.8" filter="url(#f6)"/><ellipse cx="88" cy="40" rx="16" ry="6" transform="rotate(-30 88 40)" fill="#cae4f5" fill-opacity="0.8" filter="url(#f4)"/><ellipse cx="106" cy="20" rx="10" ry="12" fill="#cae4f5" fill-opacity="0.75" filter="url(#f5)"/><ellipse cx="88" cy="48" rx="12" ry="20" transform="rotate(-10 88 48)" fill="#cae4f5" fill-opacity="0.7" filter="url(#f5)"/><ellipse cx="108" cy="22" rx="7" ry="9" fill="#cae4f5" fill-opacity="0.8" filter="url(#f3)"/><ellipse cx="158" cy="6" rx="10" ry="6" fill="#e2f0fa" fill-opacity="0.9" filter="url(#f4)"/><ellipse cx="126" cy="6" rx="9" ry="6" fill="#cae4f5" fill-opacity="0.7" filter="url(#f3)"/><ellipse cx="106" cy="14" rx="10" ry="8" fill="#cae4f5" fill-opacity="0.7" filter="url(#f4)"/><ellipse cx="52" cy="50" rx="11" ry="6" transform="rotate(-30 52 50)" fill="#cae4f5" fill-opacity="0.9" filter="url(#f4)"/><ellipse cx="48" cy="45" rx="10" ry="8" fill="#e2f0fa" fill-opacity="0.9" filter="url(#f5)"/><ellipse cx="72" cy="35" rx="10" ry="10" fill="#e2f0fa" fill-opacity="0.9" filter="url(#f4)"/><ellipse cx="76" cy="36" rx="6" ry="6" fill="#cae4f5" fill-opacity="0.7" filter="url(#f3)"/><ellipse cx="108" cy="4" rx="14" ry="6" fill="#cae4f5" fill-opacity="0.9" filter="url(#f4)"/><ellipse cx="174" cy="8" rx="14" ry="8" fill="#cae4f5" fill-opacity="0.9" filter="url(#f4)"/><ellipse cx="180" cy="15" rx="10" ry="8" fill="#e2f0fa" fill-opacity="0.9" filter="url(#f4)"/><ellipse cx="160" cy="92" rx="22" ry="9" transform="rotate(-10 160 92)" fill="#e2f0fa" fill-opacity="0.9" filter="url(#f5)"/><ellipse cx="182" cy="84" rx="12" ry="16" fill="#e2f0fa" fill-opacity="0.8" filter="url(#f5)"/><ellipse cx="112" cy="106" rx="26" ry="7" transform="rotate(-8 112 106)" fill="#e2f0fa" fill-opacity="0.9" filter="url(#f5)"/><ellipse cx="74" cy="105" rx="20" ry="7" transform="rotate(-5 74 105)" fill="#e2f0fa" fill-opacity="0.9" filter="url(#f5)"/><ellipse cx="33" cy="96" rx="16" ry="5" transform="rotate(-15 33 96)" fill="#cae4f5" fill-opacity="0.7" filter="url(#f4)"/><ellipse cx="70" cy="118" rx="10" ry="6" fill="#cae4f5" fill-opacity="0.8" filter="url(#f4)"/><ellipse cx="113" cy="121" rx="8" ry="2.6" transform="rotate(-10 113 121)" fill="#a6d1ee" fill-opacity="0.85" filter="url(#f2_2)"/><ellipse cx="42" cy="176" rx="22" ry="13" fill="#cae4f5" fill-opacity="0.9" filter="url(#f5)"/><ellipse cx="22" cy="186" rx="9" ry="7" fill="#cae4f5" fill-opacity="0.8" filter="url(#f4)"/><ellipse cx="36" cy="162" rx="4" ry="3" fill="#cae4f5" fill-opacity="0.9" filter="url(#f2)"/><ellipse cx="42" cy="176.5" rx="7" ry="4" fill="#84bce6" fill-opacity="0.9" filter="url(#f2)"/><ellipse cx="56.8" cy="85.8" rx="3.2" ry="3.5" fill="#cae4f5" fill-opacity="0.85" filter="url(#f1_6)"/><ellipse cx="70.2" cy="85.0" rx="3.5" ry="3.1" fill="#cae4f5" fill-opacity="0.85" filter="url(#f1_6)"/><ellipse cx="52.4" cy="78.9" rx="2.2" ry="2.4" fill="#a6d1ee" fill-opacity="0.85" filter="url(#f1_6)"/><ellipse cx="52.3" cy="85.8" rx="3.8" ry="3.8" fill="#cae4f5" fill-opacity="0.85" filter="url(#f1_6)"/><ellipse cx="50.9" cy="90.7" rx="3.6" ry="2.3" fill="#a6d1ee" fill-opacity="0.85" filter="url(#f1_6)"/><ellipse cx="73.3" cy="97.7" rx="3.4" ry="2.3" fill="#cae4f5" fill-opacity="0.85" filter="url(#f1_6)"/><ellipse cx="64.6" cy="89.0" rx="2.9" ry="2.7" fill="#a6d1ee" fill-opacity="0.85" filter="url(#f1_6)"/><ellipse cx="78.2" cy="83.7" rx="3.1" ry="2.5" fill="#84bce6" fill-opacity="0.85" filter="url(#f1_6)"/><ellipse cx="75.1" cy="99.4" rx="3.2" ry="2.9" fill="#84bce6" fill-opacity="0.85" filter="url(#f1_6)"/><ellipse cx="81.6" cy="74.8" rx="3.3" ry="2.9" fill="#a6d1ee" fill-opacity="0.85" filter="url(#f1_6)"/><ellipse cx="54.9" cy="78.5" rx="2.3" ry="2.7" fill="#84bce6" fill-opacity="0.85" filter="url(#f1_6)"/><ellipse cx="57.5" cy="95.0" rx="3.0" ry="2.9" fill="#84bce6" fill-opacity="0.85" filter="url(#f1_6)"/><ellipse cx="56.0" cy="63.8" rx="2.5" ry="1.9" fill="#84bce6" fill-opacity="0.85" filter="url(#f1_6)"/><ellipse cx="69.4" cy="75.9" rx="1.8" ry="2.6" fill="#cae4f5" fill-opacity="0.85" filter="url(#f1_6)"/><ellipse cx="55.6" cy="77.4" rx="3.2" ry="2.7" fill="#a6d1ee" fill-opacity="0.85" filter="url(#f1_6)"/><ellipse cx="53.4" cy="73.6" rx="3.5" ry="3.6" fill="#a6d1ee" fill-opacity="0.85" filter="url(#f1_6)"/><ellipse cx="54.9" cy="93.4" rx="2.5" ry="3.2" fill="#cae4f5" fill-opacity="0.85" filter="url(#f1_6)"/><ellipse cx="78.6" cy="86.7" rx="2.3" ry="2.8" fill="#84bce6" fill-opacity="0.85" filter="url(#f1_6)"/><ellipse cx="49.4" cy="86.6" rx="1.9" ry="3.0" fill="#84bce6" fill-opacity="0.85" filter="url(#f1_6)"/><ellipse cx="59.6" cy="68.3" rx="2.1" ry="3.2" fill="#cae4f5" fill-opacity="0.85" filter="url(#f1_6)"/><ellipse cx="78.6" cy="62.5" rx="2.7" ry="3.0" fill="#84bce6" fill-opacity="0.85" filter="url(#f1_6)"/><ellipse cx="71.6" cy="98.7" rx="3.5" ry="3.1" fill="#84bce6" fill-opacity="0.85" filter="url(#f1_6)"/><ellipse cx="100.2" cy="102.0" rx="2.0" ry="2.4" fill="#a6d1ee" fill-opacity="0.85" filter="url(#f1_6)"/><ellipse cx="129.4" cy="96.0" rx="3.7" ry="2.8" fill="#cae4f5" fill-opacity="0.85" filter="url(#f1_6)"/><ellipse cx="100.3" cy="88.7" rx="2.8" ry="3.7" fill="#84bce6" fill-opacity="0.85" filter="url(#f1_6)"/><ellipse cx="142.9" cy="86.5" rx="2.2" ry="3.4" fill="#a6d1ee" fill-opacity="0.85" filter="url(#f1_6)"/><ellipse cx="126.1" cy="100.2" rx="3.3" ry="2.3" fill="#84bce6" fill-opacity="0.85" filter="url(#f1_6)"/><ellipse cx="142.9" cy="86.3" rx="2.6" ry="2.3" fill="#cae4f5" fill-opacity="0.85" filter="url(#f1_6)"/><ellipse cx="130.8" cy="90.6" rx="3.1" ry="2.7" fill="#a6d1ee" fill-opacity="0.85" filter="url(#f1_6)"/><ellipse cx="120.7" cy="83.7" rx="3.3" ry="3.0" fill="#cae4f5" fill-opacity="0.85" filter="url(#f1_6)"/><ellipse cx="134.0" cy="88.1" rx="2.7" ry="3.8" fill="#a6d1ee" fill-opacity="0.85" filter="url(#f1_6)"/><ellipse cx="117.3" cy="87.8" rx="2.7" ry="2.1" fill="#cae4f5" fill-opacity="0.85" filter="url(#f1_6)"/><ellipse cx="105.8" cy="98.5" rx="2.2" ry="2.4" fill="#a6d1ee" fill-opacity="0.85" filter="url(#f1_6)"/><ellipse cx="115.1" cy="89.0" rx="2.0" ry="2.8" fill="#84bce6" fill-opacity="0.85" filter="url(#f1_6)"/><ellipse cx="145.6" cy="101.8" rx="1.9" ry="2.9" fill="#cae4f5" fill-opacity="0.85" filter="url(#f1_6)"/><ellipse cx="150.3" cy="83.0" rx="2.1" ry="3.6" fill="#84bce6" fill-opacity="0.85" filter="url(#f1_6)"/><ellipse cx="154.4" cy="80.1" rx="2.3" ry="3.5" fill="#cae4f5" fill-opacity="0.85" filter="url(#f1_6)"/><ellipse cx="153.1" cy="98.6" rx="1.9" ry="2.3" fill="#cae4f5" fill-opacity="0.85" filter="url(#f1_6)"/><ellipse cx="151.6" cy="84.8" rx="3.5" ry="2.3" fill="#a6d1ee" fill-opacity="0.85" filter="url(#f1_6)"/><ellipse cx="156.8" cy="87.9" rx="1.9" ry="2.9" fill="#cae4f5" fill-opacity="0.85" filter="url(#f1_6)"/><ellipse cx="154.0" cy="82.7" rx="2.9" ry="3.4" fill="#84bce6" fill-opacity="0.85" filter="url(#f1_6)"/><ellipse cx="163.9" cy="83.0" rx="2.9" ry="2.3" fill="#a6d1ee" fill-opacity="0.85" filter="url(#f1_6)"/><ellipse cx="151.8" cy="80.6" rx="3.3" ry="2.0" fill="#84bce6" fill-opacity="0.85" filter="url(#f1_6)"/><ellipse cx="159.5" cy="81.8" rx="2.5" ry="3.1" fill="#cae4f5" fill-opacity="0.85" filter="url(#f1_6)"/><ellipse cx="44.9" cy="186.3" rx="3.2" ry="2.4" fill="#cae4f5" fill-opacity="0.85" filter="url(#f1_6)"/><ellipse cx="24.4" cy="174.8" rx="3.8" ry="2.7" fill="#a6d1ee" fill-opacity="0.85" filter="url(#f1_6)"/><ellipse cx="26.0" cy="171.3" rx="2.4" ry="2.9" fill="#84bce6" fill-opacity="0.85" filter="url(#f1_6)"/><ellipse cx="30.4" cy="175.3" rx="3.7" ry="2.3" fill="#a6d1ee" fill-opacity="0.85" filter="url(#f1_6)"/><ellipse cx="36.6" cy="189.9" rx="3.3" ry="2.8" fill="#a6d1ee" fill-opacity="0.85" filter="url(#f1_6)"/><ellipse cx="26.2" cy="180.7" rx="3.7" ry="2.7" fill="#a6d1ee" fill-opacity="0.85" filter="url(#f1_6)"/><ellipse cx="48.6" cy="186.3" rx="1.9" ry="3.6" fill="#a6d1ee" fill-opacity="0.85" filter="url(#f1_6)"/><ellipse cx="52.8" cy="171.9" rx="2.0" ry="3.0" fill="#a6d1ee" fill-opacity="0.85" filter="url(#f1_6)"/><ellipse cx="63.2" cy="122.6" rx="2.9" ry="3.2" fill="#cae4f5" fill-opacity="0.85" filter="url(#f1_6)"/><ellipse cx="68.6" cy="118.6" rx="3.1" ry="2.7" fill="#84bce6" fill-opacity="0.85" filter="url(#f1_6)"/><ellipse cx="60.9" cy="121.6" rx="2.1" ry="3.5" fill="#cae4f5" fill-opacity="0.85" filter="url(#f1_6)"/><ellipse cx="86.0" cy="118.3" rx="2.7" ry="3.3" fill="#cae4f5" fill-opacity="0.85" filter="url(#f1_6)"/><ellipse cx="79.5" cy="115.2" rx="2.3" ry="2.9" fill="#cae4f5" fill-opacity="0.85" filter="url(#f1_6)"/><ellipse cx="82.9" cy="122.3" rx="3.6" ry="3.1" fill="#84bce6" fill-opacity="0.85" filter="url(#f1_6)"/><ellipse cx="62.0" cy="117.5" rx="2.7" ry="3.6" fill="#84bce6" fill-opacity="0.85" filter="url(#f1_6)"/><ellipse cx="60.5" cy="109.2" rx="2.1" ry="2.7" fill="#a6d1ee" fill-opacity="0.85" filter="url(#f1_6)"/><ellipse cx="127.0" cy="43.1" rx="4.3" ry="2.7" fill="#a6d1ee" fill-opacity="0.85" filter="url(#f2)"/><ellipse cx="106.9" cy="27.6" rx="2.8" ry="2.9" fill="#a6d1ee" fill-opacity="0.85" filter="url(#f2)"/><ellipse cx="90.6" cy="30.9" rx="4.3" ry="2.7" fill="#a6d1ee" fill-opacity="0.85" filter="url(#f2)"/><ellipse cx="106.8" cy="27.0" rx="4.0" ry="3.2" fill="#cae4f5" fill-opacity="0.85" filter="url(#f2)"/><ellipse cx="98.2" cy="9.3" rx="3.2" ry="2.8" fill="#cae4f5" fill-opacity="0.85" filter="url(#f2)"/><ellipse cx="128.8" cy="21.4" rx="4.0" ry="3.2" fill="#a6d1ee" fill-opacity="0.85" filter="url(#f2)"/><ellipse cx="116.4" cy="19.6" rx="2.7" ry="3.4" fill="#a6d1ee" fill-opacity="0.85" filter="url(#f2)"/><ellipse cx="113.6" cy="24.6" rx="3.8" ry="2.9" fill="#cae4f5" fill-opacity="0.85" filter="url(#f2)"/><ellipse cx="111.3" cy="32.9" rx="3.5" ry="3.7" fill="#cae4f5" fill-opacity="0.85" filter="url(#f2)"/><ellipse cx="93.9" cy="9.4" rx="3.1" ry="3.6" fill="#a6d1ee" fill-opacity="0.85" filter="url(#f2)"/><ellipse cx="62" cy="80" rx="32" ry="20" transform="rotate(-70 62 80)" fill="#cae4f5" fill-opacity="0.95" filter="url(#f5)"/><ellipse cx="65" cy="79" rx="25" ry="12" transform="rotate(-66 65 79)" fill="#a6d1ee" fill-opacity="0.9" filter="url(#f3_5)"/><ellipse cx="69" cy="56" rx="10" ry="2.8" transform="rotate(-28 69 56)" fill="#5d9ed6" fill-opacity="0.85" filter="url(#f1_6)"/><ellipse cx="51" cy="50" rx="8" ry="2.2" transform="rotate(-30 51 50)" fill="#a6d1ee" fill-opacity="0.9" filter="url(#f1_6)"/><ellipse cx="80" cy="40" rx="10" ry="2.5" transform="rotate(-35 80 40)" fill="#a6d1ee" fill-opacity="0.8" filter="url(#f1_8)"/><ellipse cx="66" cy="82" rx="18" ry="9" transform="rotate(-65 66 82)" fill="#84bce6" fill-opacity="0.9" filter="url(#f2_5)"/><ellipse cx="70" cy="72.5" rx="8" ry="3.5" transform="rotate(-30 70 72.5)" fill="#4682c3" fill-opacity="0.85" filter="url(#f1_6)"/><ellipse cx="64" cy="84" rx="9" ry="2.6" transform="rotate(-40 64 84)" fill="#5d9ed6" fill-opacity="0.85" filter="url(#f1_5)"/><ellipse cx="66" cy="97" rx="12" ry="3" transform="rotate(-5 66 97)" fill="#84bce6" fill-opacity="0.75" filter="url(#f2)"/><ellipse cx="70.5" cy="71.3" rx="3.2" ry="1.7" transform="rotate(-20 70.5 71.3)" fill="#50ab50" fill-opacity="0.95" filter="url(#f0_8)"/><ellipse cx="132" cy="91" rx="36" ry="14" transform="rotate(-3 132 91)" fill="#cae4f5" fill-opacity="0.95" filter="url(#f5)"/><ellipse cx="108" cy="97" rx="18" ry="6" fill="#cae4f5" fill-opacity="0.85" filter="url(#f4)"/><ellipse cx="160" cy="88" rx="16" ry="8" transform="rotate(-10 160 88)" fill="#cae4f5" fill-opacity="0.8" filter="url(#f4)"/><ellipse cx="134" cy="89" rx="18" ry="10" transform="rotate(-15 134 89)" fill="#a6d1ee" fill-opacity="0.95" filter="url(#f3)"/><ellipse cx="136" cy="86" rx="11" ry="6" transform="rotate(-25 136 86)" fill="#84bce6" fill-opacity="0.85" filter="url(#f2_5)"/><ellipse cx="139" cy="80" rx="6" ry="4" transform="rotate(15 139 80)" fill="#4682c3" fill-opacity="0.85" filter="url(#f2)"/><polygon points="117,99.5 140,84.5 146,98.5" fill="#5d9ed6" fill-opacity="0.8" filter="url(#f2)"/><ellipse cx="130" cy="89" rx="11" ry="3" transform="rotate(-33 130 89)" fill="#4682c3" fill-opacity="0.6" filter="url(#f1_8)"/><polygon points="119,99 140,85.5 144.5,98" fill="#50ab50" fill-opacity="0.95" filter="url(#f1_0)"/><polygon points="125,97.5 138.5,89 140.5,96.5" fill="#f0dc48" fill-opacity="0.95" filter="url(#f0_9)"/><ellipse cx="132" cy="94" rx="1.8" ry="1.2" transform="rotate(-25 132 94)" fill="#f29a38" fill-opacity="0.9" filter="url(#f0_6)"/></g>
</defs>
<g transform="translate(35.6,19.5)">
<rect x="0" y="0" width="192.80" height="192.80" fill="#f7fbfe"/>
<g clip-path="url(#clip)"><use href="#blobs_a"/><use href="#borders"/></g>
<rect x="0" y="0" width="192.80" height="192.80" fill="none" stroke="#4d4d4d" stroke-width="1.3"/>
<path d="M0 0.00h-3.2M0.00 192.80v3.2M0 9.64h-3.2M9.64 192.80v3.2M0 19.28h-3.2M19.28 192.80v3.2M0 28.92h-3.2M28.92 192.80v3.2M0 38.56h-3.2M38.56 192.80v3.2M0 48.20h-6.5M48.20 192.80v6.5M0 57.84h-3.2M57.84 192.80v3.2M0 67.48h-3.2M67.48 192.80v3.2M0 77.12h-3.2M77.12 192.80v3.2M0 86.76h-3.2M86.76 192.80v3.2M0 96.40h-6.5M96.40 192.80v6.5M0 106.04h-3.2M106.04 192.80v3.2M0 115.68h-3.2M115.68 192.80v3.2M0 125.32h-3.2M125.32 192.80v3.2M0 134.96h-3.2M134.96 192.80v3.2M0 144.60h-6.5M144.60 192.80v6.5M0 154.24h-3.2M154.24 192.80v3.2M0 163.88h-3.2M163.88 192.80v3.2M0 173.52h-3.2M173.52 192.80v3.2M0 183.16h-3.2M183.16 192.80v3.2M0 192.80h-3.2M192.80 192.80v3.2" stroke="#4d4d4d" stroke-width="1" fill="none"/>
<text x="-11.8" y="51.30" class="tl" text-anchor="end">35<tspan class="deg" dy="-3.6">o</tspan><tspan dy="3.6">N</tspan></text>
<text x="-11.8" y="99.50" class="tl" text-anchor="end">30<tspan class="deg" dy="-3.6">o</tspan><tspan dy="3.6">N</tspan></text>
<text x="-11.8" y="147.70" class="tl" text-anchor="end">25<tspan class="deg" dy="-3.6">o</tspan><tspan dy="3.6">N</tspan></text>
<text x="48.20" y="213.20" class="tl" text-anchor="middle">105<tspan class="deg" dy="-3.6">o</tspan><tspan dy="3.6">E</tspan></text>
<text x="96.40" y="213.20" class="tl" text-anchor="middle">110<tspan class="deg" dy="-3.6">o</tspan><tspan dy="3.6">E</tspan></text>
<text x="144.60" y="213.20" class="tl" text-anchor="middle">115<tspan class="deg" dy="-3.6">o</tspan><tspan dy="3.6">E</tspan></text>
<text x="193.40" y="-4" class="ti" text-anchor="end" textLength="87.5" lengthAdjust="spacingAndGlyphs">precipitation (mm)</text>
<rect x="197.5" y="1.3" width="5.3" height="187" fill="url(#cbg)"/>
<text x="210.9" y="13.90" class="cb" text-anchor="middle">48</text>
<text x="210.9" y="24.97" class="cb" text-anchor="middle">45</text>
<text x="210.9" y="36.05" class="cb" text-anchor="middle">42</text>
<text x="210.9" y="47.12" class="cb" text-anchor="middle">39</text>
<text x="210.9" y="58.20" class="cb" text-anchor="middle">36</text>
<text x="210.9" y="69.28" class="cb" text-anchor="middle">33</text>
<text x="210.9" y="80.35" class="cb" text-anchor="middle">30</text>
<text x="210.9" y="91.42" class="cb" text-anchor="middle">27</text>
<text x="210.9" y="102.50" class="cb" text-anchor="middle">24</text>
<text x="210.9" y="113.58" class="cb" text-anchor="middle">21</text>
<text x="210.9" y="124.65" class="cb" text-anchor="middle">18</text>
<text x="210.9" y="135.72" class="cb" text-anchor="middle">15</text>
<text x="210.9" y="146.80" class="cb" text-anchor="middle">12</text>
<text x="210.9" y="157.88" class="cb" text-anchor="middle">9</text>
<text x="210.9" y="168.95" class="cb" text-anchor="middle">6</text>
<text x="210.9" y="180.03" class="cb" text-anchor="middle">3</text>
<text x="210.9" y="191.10" class="cb" text-anchor="middle">0</text>
</g><g transform="translate(322.6,19.5)">
<rect x="0" y="0" width="192.80" height="192.80" fill="#f7fbfe"/>
<g clip-path="url(#clip)"><use href="#blobs_b"/><use href="#borders"/></g>
<rect x="0" y="0" width="192.80" height="192.80" fill="none" stroke="#4d4d4d" stroke-width="1.3"/>
<path d="M0 0.00h-3.2M0.00 192.80v3.2M0 9.64h-3.2M9.64 192.80v3.2M0 19.28h-3.2M19.28 192.80v3.2M0 28.92h-3.2M28.92 192.80v3.2M0 38.56h-3.2M38.56 192.80v3.2M0 48.20h-6.5M48.20 192.80v6.5M0 57.84h-3.2M57.84 192.80v3.2M0 67.48h-3.2M67.48 192.80v3.2M0 77.12h-3.2M77.12 192.80v3.2M0 86.76h-3.2M86.76 192.80v3.2M0 96.40h-6.5M96.40 192.80v6.5M0 106.04h-3.2M106.04 192.80v3.2M0 115.68h-3.2M115.68 192.80v3.2M0 125.32h-3.2M125.32 192.80v3.2M0 134.96h-3.2M134.96 192.80v3.2M0 144.60h-6.5M144.60 192.80v6.5M0 154.24h-3.2M154.24 192.80v3.2M0 163.88h-3.2M163.88 192.80v3.2M0 173.52h-3.2M173.52 192.80v3.2M0 183.16h-3.2M183.16 192.80v3.2M0 192.80h-3.2M192.80 192.80v3.2" stroke="#4d4d4d" stroke-width="1" fill="none"/>
<text x="-11.8" y="51.30" class="tl" text-anchor="end">35<tspan class="deg" dy="-3.6">o</tspan><tspan dy="3.6">N</tspan></text>
<text x="-11.8" y="99.50" class="tl" text-anchor="end">30<tspan class="deg" dy="-3.6">o</tspan><tspan dy="3.6">N</tspan></text>
<text x="-11.8" y="147.70" class="tl" text-anchor="end">25<tspan class="deg" dy="-3.6">o</tspan><tspan dy="3.6">N</tspan></text>
<text x="48.20" y="213.20" class="tl" text-anchor="middle">105<tspan class="deg" dy="-3.6">o</tspan><tspan dy="3.6">E</tspan></text>
<text x="96.40" y="213.20" class="tl" text-anchor="middle">110<tspan class="deg" dy="-3.6">o</tspan><tspan dy="3.6">E</tspan></text>
<text x="144.60" y="213.20" class="tl" text-anchor="middle">115<tspan class="deg" dy="-3.6">o</tspan><tspan dy="3.6">E</tspan></text>
<text x="193.40" y="-4" class="ti" text-anchor="end" textLength="87.5" lengthAdjust="spacingAndGlyphs">precipitation (mm)</text>
<rect x="197.5" y="1.3" width="5.3" height="187" fill="url(#cbg)"/>
<text x="210.9" y="13.90" class="cb" text-anchor="middle">48</text>
<text x="210.9" y="24.97" class="cb" text-anchor="middle">45</text>
<text x="210.9" y="36.05" class="cb" text-anchor="middle">42</text>
<text x="210.9" y="47.12" class="cb" text-anchor="middle">39</text>
<text x="210.9" y="58.20" class="cb" text-anchor="middle">36</text>
<text x="210.9" y="69.28" class="cb" text-anchor="middle">33</text>
<text x="210.9" y="80.35" class="cb" text-anchor="middle">30</text>
<text x="210.9" y="91.42" class="cb" text-anchor="middle">27</text>
<text x="210.9" y="102.50" class="cb" text-anchor="middle">24</text>
<text x="210.9" y="113.58" class="cb" text-anchor="middle">21</text>
<text x="210.9" y="124.65" class="cb" text-anchor="middle">18</text>
<text x="210.9" y="135.72" class="cb" text-anchor="middle">15</text>
<text x="210.9" y="146.80" class="cb" text-anchor="middle">12</text>
<text x="210.9" y="157.88" class="cb" text-anchor="middle">9</text>
<text x="210.9" y="168.95" class="cb" text-anchor="middle">6</text>
<text x="210.9" y="180.03" class="cb" text-anchor="middle">3</text>
<text x="210.9" y="191.10" class="cb" text-anchor="middle">0</text>
</g><g transform="translate(35.6,298.3)">
<rect x="0" y="0" width="192.80" height="192.80" fill="#f7fbfe"/>
<g clip-path="url(#clip)"><use href="#blobs_c"/><use href="#borders"/></g>
<rect x="0" y="0" width="192.80" height="192.80" fill="none" stroke="#4d4d4d" stroke-width="1.3"/>
<path d="M0 0.00h-3.2M0.00 192.80v3.2M0 9.64h-3.2M9.64 192.80v3.2M0 19.28h-3.2M19.28 192.80v3.2M0 28.92h-3.2M28.92 192.80v3.2M0 38.56h-3.2M38.56 192.80v3.2M0 48.20h-6.5M48.20 192.80v6.5M0 57.84h-3.2M57.84 192.80v3.2M0 67.48h-3.2M67.48 192.80v3.2M0 77.12h-3.2M77.12 192.80v3.2M0 86.76h-3.2M86.76 192.80v3.2M0 96.40h-6.5M96.40 192.80v6.5M0 106.04h-3.2M106.04 192.80v3.2M0 115.68h-3.2M115.68 192.80v3.2M0 125.32h-3.2M125.32 192.80v3.2M0 134.96h-3.2M134.96 192.80v3.2M0 144.60h-6.5M144.60 192.80v6.5M0 154.24h-3.2M154.24 192.80v3.2M0 163.88h-3.2M163.88 192.80v3.2M0 173.52h-3.2M173.52 192.80v3.2M0 183.16h-3.2M183.16 192.80v3.2M0 192.80h-3.2M192.80 192.80v3.2" stroke="#4d4d4d" stroke-width="1" fill="none"/>
<text x="-11.8" y="51.30" class="tl" text-anchor="end">35<tspan class="deg" dy="-3.6">o</tspan><tspan dy="3.6">N</tspan></text>
<text x="-11.8" y="99.50" class="tl" text-anchor="end">30<tspan class="deg" dy="-3.6">o</tspan><tspan dy="3.6">N</tspan></text>
<text x="-11.8" y="147.70" class="tl" text-anchor="end">25<tspan class="deg" dy="-3.6">o</tspan><tspan dy="3.6">N</tspan></text>
<text x="48.20" y="213.20" class="tl" text-anchor="middle">105<tspan class="deg" dy="-3.6">o</tspan><tspan dy="3.6">E</tspan></text>
<text x="96.40" y="213.20" class="tl" text-anchor="middle">110<tspan class="deg" dy="-3.6">o</tspan><tspan dy="3.6">E</tspan></text>
<text x="144.60" y="213.20" class="tl" text-anchor="middle">115<tspan class="deg" dy="-3.6">o</tspan><tspan dy="3.6">E</tspan></text>
<text x="193.40" y="-4" class="ti" text-anchor="end" textLength="87.5" lengthAdjust="spacingAndGlyphs">precipitation (mm)</text>
<rect x="197.5" y="1.3" width="5.3" height="187" fill="url(#cbg)"/>
<text x="210.9" y="13.90" class="cb" text-anchor="middle">48</text>
<text x="210.9" y="24.97" class="cb" text-anchor="middle">45</text>
<text x="210.9" y="36.05" class="cb" text-anchor="middle">42</text>
<text x="210.9" y="47.12" class="cb" text-anchor="middle">39</text>
<text x="210.9" y="58.20" class="cb" text-anchor="middle">36</text>
<text x="210.9" y="69.28" class="cb" text-anchor="middle">33</text>
<text x="210.9" y="80.35" class="cb" text-anchor="middle">30</text>
<text x="210.9" y="91.42" class="cb" text-anchor="middle">27</text>
<text x="210.9" y="102.50" class="cb" text-anchor="middle">24</text>
<text x="210.9" y="113.58" class="cb" text-anchor="middle">21</text>
<text x="210.9" y="124.65" class="cb" text-anchor="middle">18</text>
<text x="210.9" y="135.72" class="cb" text-anchor="middle">15</text>
<text x="210.9" y="146.80" class="cb" text-anchor="middle">12</text>
<text x="210.9" y="157.88" class="cb" text-anchor="middle">9</text>
<text x="210.9" y="168.95" class="cb" text-anchor="middle">6</text>
<text x="210.9" y="180.03" class="cb" text-anchor="middle">3</text>
<text x="210.9" y="191.10" class="cb" text-anchor="middle">0</text>
</g><g transform="translate(322.6,298.3)">
<rect x="0" y="0" width="192.80" height="192.80" fill="#f7fbfe"/>
<g clip-path="url(#clip)"><use href="#blobs_d"/><use href="#borders"/></g>
<rect x="0" y="0" width="192.80" height="192.80" fill="none" stroke="#4d4d4d" stroke-width="1.3"/>
<path d="M0 0.00h-3.2M0.00 192.80v3.2M0 9.64h-3.2M9.64 192.80v3.2M0 19.28h-3.2M19.28 192.80v3.2M0 28.92h-3.2M28.92 192.80v3.2M0 38.56h-3.2M38.56 192.80v3.2M0 48.20h-6.5M48.20 192.80v6.5M0 57.84h-3.2M57.84 192.80v3.2M0 67.48h-3.2M67.48 192.80v3.2M0 77.12h-3.2M77.12 192.80v3.2M0 86.76h-3.2M86.76 192.80v3.2M0 96.40h-6.5M96.40 192.80v6.5M0 106.04h-3.2M106.04 192.80v3.2M0 115.68h-3.2M115.68 192.80v3.2M0 125.32h-3.2M125.32 192.80v3.2M0 134.96h-3.2M134.96 192.80v3.2M0 144.60h-6.5M144.60 192.80v6.5M0 154.24h-3.2M154.24 192.80v3.2M0 163.88h-3.2M163.88 192.80v3.2M0 173.52h-3.2M173.52 192.80v3.2M0 183.16h-3.2M183.16 192.80v3.2M0 192.80h-3.2M192.80 192.80v3.2" stroke="#4d4d4d" stroke-width="1" fill="none"/>
<text x="-11.8" y="51.30" class="tl" text-anchor="end">35<tspan class="deg" dy="-3.6">o</tspan><tspan dy="3.6">N</tspan></text>
<text x="-11.8" y="99.50" class="tl" text-anchor="end">30<tspan class="deg" dy="-3.6">o</tspan><tspan dy="3.6">N</tspan></text>
<text x="-11.8" y="147.70" class="tl" text-anchor="end">25<tspan class="deg" dy="-3.6">o</tspan><tspan dy="3.6">N</tspan></text>
<text x="48.20" y="213.20" class="tl" text-anchor="middle">105<tspan class="deg" dy="-3.6">o</tspan><tspan dy="3.6">E</tspan></text>
<text x="96.40" y="213.20" class="tl" text-anchor="middle">110<tspan class="deg" dy="-3.6">o</tspan><tspan dy="3.6">E</tspan></text>
<text x="144.60" y="213.20" class="tl" text-anchor="middle">115<tspan class="deg" dy="-3.6">o</tspan><tspan dy="3.6">E</tspan></text>
<text x="193.40" y="-4" class="ti" text-anchor="end" textLength="87.5" lengthAdjust="spacingAndGlyphs">precipitation (mm)</text>
<rect x="197.5" y="1.3" width="5.3" height="187" fill="url(#cbg)"/>
<text x="210.9" y="13.90" class="cb" text-anchor="middle">48</text>
<text x="210.9" y="24.97" class="cb" text-anchor="middle">45</text>
<text x="210.9" y="36.05" class="cb" text-anchor="middle">42</text>
<text x="210.9" y="47.12" class="cb" text-anchor="middle">39</text>
<text x="210.9" y="58.20" class="cb" text-anchor="middle">36</text>
<text x="210.9" y="69.28" class="cb" text-anchor="middle">33</text>
<text x="210.9" y="80.35" class="cb" text-anchor="middle">30</text>
<text x="210.9" y="91.42" class="cb" text-anchor="middle">27</text>
<text x="210.9" y="102.50" class="cb" text-anchor="middle">24</text>
<text x="210.9" y="113.58" class="cb" text-anchor="middle">21</text>
<text x="210.9" y="124.65" class="cb" text-anchor="middle">18</text>
<text x="210.9" y="135.72" class="cb" text-anchor="middle">15</text>
<text x="210.9" y="146.80" class="cb" text-anchor="middle">12</text>
<text x="210.9" y="157.88" class="cb" text-anchor="middle">9</text>
<text x="210.9" y="168.95" class="cb" text-anchor="middle">6</text>
<text x="210.9" y="180.03" class="cb" text-anchor="middle">3</text>
<text x="210.9" y="191.10" class="cb" text-anchor="middle">0</text>
</g>
<text x="103.0" y="263.3" class="cap" textLength="48.3" lengthAdjust="spacingAndGlyphs"><tspan font-weight="bold">(a)</tspan> GPM</text><text x="374.6" y="263.3" class="cap" textLength="77.7" lengthAdjust="spacingAndGlyphs"><tspan font-weight="bold">(b)</tspan> GPM_0.4°</text><text x="93.7" y="541.9" class="cap" textLength="66.7" lengthAdjust="spacingAndGlyphs"><tspan font-weight="bold">(c)</tspan> Bi-linear</text><text x="381.0" y="541.9" class="cap" textLength="64.9" lengthAdjust="spacingAndGlyphs"><tspan font-weight="bold">(d)</tspan> SRCNN</text>
</svg>
</body></html>
